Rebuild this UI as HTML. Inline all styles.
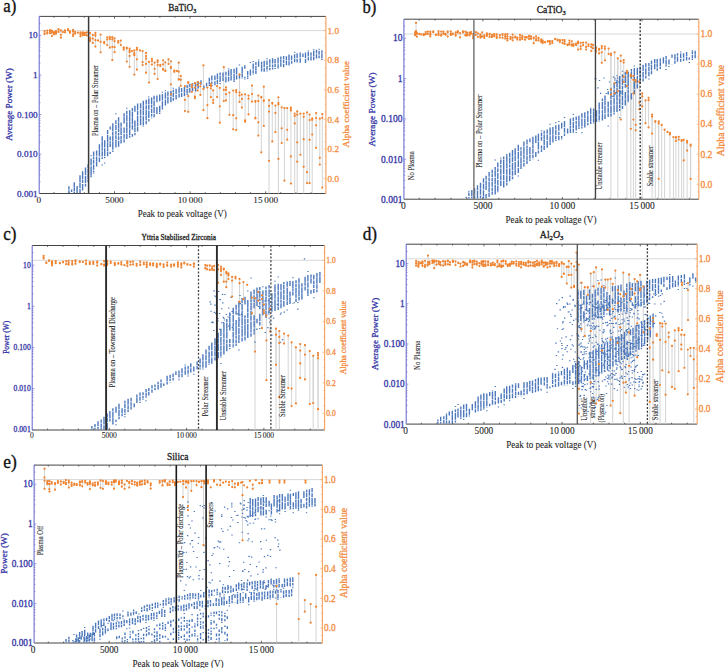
<!DOCTYPE html>
<html><head><meta charset="utf-8"><style>
html,body{margin:0;padding:0;background:#fff;}
svg{display:block;font-family:"Liberation Serif", serif;}
</style></head><body>
<svg width="725" height="668" viewBox="0 0 725 668">
<rect width="725" height="668" fill="#fff"/>
<line x1="39.2" y1="30.6" x2="325.9" y2="30.6" stroke="#d4d4d4" stroke-width="0.9"/>
<path d="M39.2 16.4H325.9M39.2 193.5H325.9" stroke="#444" stroke-width="1" fill="none"/>
<path d="M54.0 16.4v1.4M54.0 193.5v-1.4M69.1 16.4v1.4M69.1 193.5v-1.4M84.3 16.4v1.4M84.3 193.5v-1.4M99.4 16.4v1.4M99.4 193.5v-1.4M114.5 16.4v2.2M114.5 193.5v-2.2M129.6 16.4v1.4M129.6 193.5v-1.4M144.7 16.4v1.4M144.7 193.5v-1.4M159.9 16.4v1.4M159.9 193.5v-1.4M175.0 16.4v1.4M175.0 193.5v-1.4M190.1 16.4v2.2M190.1 193.5v-2.2M205.2 16.4v1.4M205.2 193.5v-1.4M220.3 16.4v1.4M220.3 193.5v-1.4M235.5 16.4v1.4M235.5 193.5v-1.4M250.6 16.4v1.4M250.6 193.5v-1.4M265.7 16.4v2.2M265.7 193.5v-2.2M280.8 16.4v1.4M280.8 193.5v-1.4M295.9 16.4v1.4M295.9 193.5v-1.4M311.1 16.4v1.4M311.1 193.5v-1.4" stroke="#444" stroke-width="0.8"/>
<line x1="39.2" y1="16.4" x2="39.2" y2="193.5" stroke="#6f6fd2" stroke-width="1.1"/>
<path d="M39.2 181.8h1.3M39.2 174.8h1.3M39.2 169.9h1.3M39.2 166.0h1.3M39.2 162.9h1.3M39.2 160.2h1.3M39.2 157.9h1.3M39.2 155.9h1.3M39.2 154.1h2.2M39.2 142.2h1.3M39.2 135.2h1.3M39.2 130.3h1.3M39.2 126.4h1.3M39.2 123.3h1.3M39.2 120.6h1.3M39.2 118.3h1.3M39.2 116.3h1.3M39.2 114.5h2.2M39.2 102.6h1.3M39.2 95.6h1.3M39.2 90.7h1.3M39.2 86.8h1.3M39.2 83.7h1.3M39.2 81.0h1.3M39.2 78.7h1.3M39.2 76.7h1.3M39.2 74.9h2.2M39.2 63.0h1.3M39.2 56.0h1.3M39.2 51.1h1.3M39.2 47.2h1.3M39.2 44.1h1.3M39.2 41.4h1.3M39.2 39.1h1.3M39.2 37.1h1.3M39.2 35.3h2.2M39.2 23.4h1.3M39.2 16.4h1.3" stroke="#6f6fd2" stroke-width="0.7"/>
<text x="37.7" y="38.4" font-size="9.2" fill="#3434a6" stroke="#3434a6" stroke-width="0.28" text-anchor="end">10</text>
<text x="37.7" y="78.0" font-size="9.2" fill="#3434a6" stroke="#3434a6" stroke-width="0.28" text-anchor="end">1</text>
<text x="37.7" y="117.6" font-size="9.2" fill="#3434a6" stroke="#3434a6" stroke-width="0.28" text-anchor="end">0.100</text>
<text x="37.7" y="157.2" font-size="9.2" fill="#3434a6" stroke="#3434a6" stroke-width="0.28" text-anchor="end">0.010</text>
<text x="37.7" y="196.8" font-size="9.2" fill="#3434a6" stroke="#3434a6" stroke-width="0.28" text-anchor="end">0.001</text>
<line x1="325.9" y1="16.4" x2="325.9" y2="193.5" stroke="#f7a66a" stroke-width="1.2"/>
<path d="M325.9 193.4h-1.3M325.9 186.0h-1.3M325.9 178.6h-2.2M325.9 171.2h-1.3M325.9 163.8h-1.3M325.9 156.4h-1.3M325.9 149.0h-2.2M325.9 141.6h-1.3M325.9 134.2h-1.3M325.9 126.8h-1.3M325.9 119.4h-2.2M325.9 112.0h-1.3M325.9 104.6h-1.3M325.9 97.2h-1.3M325.9 89.8h-2.2M325.9 82.4h-1.3M325.9 75.0h-1.3M325.9 67.6h-1.3M325.9 60.2h-2.2M325.9 52.8h-1.3M325.9 45.4h-1.3M325.9 38.0h-1.3M325.9 30.6h-2.2M325.9 23.2h-1.3" stroke="#f7a66a" stroke-width="0.7"/>
<text x="327.5" y="181.7" font-size="9.2" fill="#f38a3c" stroke="#f38a3c" stroke-width="0.28">0.0</text>
<text x="327.5" y="152.1" font-size="9.2" fill="#f38a3c" stroke="#f38a3c" stroke-width="0.28">0.2</text>
<text x="327.5" y="122.5" font-size="9.2" fill="#f38a3c" stroke="#f38a3c" stroke-width="0.28">0.4</text>
<text x="327.5" y="92.9" font-size="9.2" fill="#f38a3c" stroke="#f38a3c" stroke-width="0.28">0.6</text>
<text x="327.5" y="63.3" font-size="9.2" fill="#f38a3c" stroke="#f38a3c" stroke-width="0.28">0.8</text>
<text x="327.5" y="33.7" font-size="9.2" fill="#f38a3c" stroke="#f38a3c" stroke-width="0.28">1.0</text>
<text x="38.9" y="203.2" font-size="9.2" fill="#222" stroke="#222" stroke-width="0.08" text-anchor="middle">0</text>
<text x="114.5" y="203.2" font-size="9.2" fill="#222" stroke="#222" stroke-width="0.08" text-anchor="middle">5000</text>
<text x="190.1" y="203.2" font-size="9.2" fill="#222" stroke="#222" stroke-width="0.08" text-anchor="middle">10 000</text>
<text x="265.7" y="203.2" font-size="9.2" fill="#222" stroke="#222" stroke-width="0.08" text-anchor="middle">15 000</text>
<path d="M44.6 31.0V34.1M47.3 30.5V33.4M50.0 30.1V33.2M51.9 30.7V36.1M54.0 32.0V34.3M56.0 31.2V33.7M58.5 29.0V31.9M60.9 30.3V37.7M62.9 32.1V32.1M65.0 30.4V32.3M68.1 29.1V30.3M70.0 31.3V32.8M73.1 29.8V36.1M75.1 32.0V33.5M77.9 32.5V32.7M80.5 32.4V36.3M82.8 32.4V35.2M84.8 32.8V35.1M86.8 32.4V35.4M90.1 33.1V41.1M92.8 34.9V42.9M95.4 32.9V46.6M98.1 40.4V40.6M100.6 34.6V52.3M104.2 41.9V43.2M107.2 37.3V45.0M109.8 36.8V47.7M112.3 37.1V60.0M114.6 38.4V52.2M118.2 41.2V42.7M120.8 40.6V45.1M123.7 47.3V49.7M126.8 47.7V61.5M129.6 48.6V66.8M134.3 50.4V74.5M136.9 47.9V69.7M142.6 51.0V65.1M146.0 52.9V72.7M149.0 61.9V82.6M151.9 58.9V64.6M154.6 62.7V73.9M157.6 60.4V79.1M160.3 64.8V65.9M163.1 60.3V69.7M165.3 62.3V71.0M168.5 59.4V63.9M170.9 61.3V94.3M174.3 70.5V71.8M178.7 62.7V79.5M180.8 75.9V85.8M184.9 86.1V111.0M188.2 82.0V111.8M191.9 84.6V91.8M194.9 83.2V98.2M197.7 82.0V90.5M200.4 83.0V94.9M203.4 65.4V110.1M207.4 87.6V118.2M210.9 84.1V97.2M213.2 90.4V102.9M217.1 86.1V97.1M219.8 87.8V122.7M223.8 67.2V101.1M226.0 87.4V100.4M229.4 92.6V114.8M233.2 90.6V129.3M236.2 90.2V130.0M239.5 74.4V101.9M241.9 94.6V107.5M245.1 94.3V121.7M248.5 95.6V114.4M252.0 85.5V101.5M255.4 100.8V118.4M258.3 95.6V135.5M261.3 96.9V152.3M263.8 86.7V125.9M269.0 100.1V193.5M269.0 100.1V160.8M272.3 102.8V141.4M275.4 105.6V132.2M278.4 97.3V193.5M278.4 97.3V158.9M281.7 107.3V143.0M284.4 108.2V180.6M287.2 108.1V139.7M290.9 107.6V183.5M294.7 113.5V193.5M294.7 113.5V123.4M297.2 111.4V193.5M297.2 111.4V161.7M300.4 113.7V154.8M303.7 113.6V193.5M303.7 113.6V166.8M307.0 112.4V183.0M309.6 114.5V183.2M312.2 118.4V193.5M312.2 118.4V134.5M316.1 113.0V147.8M319.8 118.7V164.5M322.3 114.2V187.5" stroke="#cfcfcf" stroke-width="0.9" fill="none"/>
<path d="M68.9 186.3V189.7M68.9 190.3V192.9M71.6 189.4V192.0M74.3 182.2V187.5M74.3 187.8V191.5M74.3 191.9V192.9M77.1 186.0V192.9M80.0 175.3V182.1M80.0 182.5V188.0M80.0 188.7V192.9M82.6 171.2V179.1M82.6 179.5V183.0M82.6 183.9V190.6M85.5 167.4V175.2M85.5 175.9V182.9M85.5 183.7V186.6M88.1 164.3V167.9M88.1 168.4V172.9M88.1 173.4V179.4M88.1 179.9V181.9M91.1 158.4V165.4M91.1 166.2V172.4M91.1 172.6V175.2M91.1 175.5V177.2M91.1 155.2V156.2M93.6 151.5V156.5M93.6 157.0V159.6M93.6 160.1V163.7M93.6 164.5V169.8M93.6 170.4V172.0M93.6 172.6V173.6M96.6 150.5V155.8M96.6 156.5V161.2M96.6 161.6V166.6M99.4 144.3V149.1M99.4 149.3V156.6M99.4 157.4V162.0M102.2 136.3V140.9M102.2 141.2V147.4M102.2 147.8V150.8M102.2 151.2V156.5M102.2 157.3V159.1M102.2 164.6V165.6M104.7 140.3V147.6M104.7 148.2V156.1M104.7 156.8V158.2M104.7 162.4V163.4M107.6 130.0V134.1M107.6 134.7V142.4M107.6 142.7V148.3M107.6 148.5V151.4M107.6 152.1V156.3M110.2 126.5V129.4M110.2 136.4V140.4M110.2 141.2V143.7M110.2 144.0V147.1M110.2 151.7V154.0M112.8 123.2V131.0M112.8 131.4V135.3M112.8 135.6V141.7M112.8 141.9V149.8M112.8 150.4V152.1M115.9 120.2V123.9M115.9 124.8V130.3M115.9 130.9V134.8M115.9 135.3V139.1M115.9 139.5V147.4M115.9 113.2V114.2M118.6 117.3V121.7M118.6 122.3V128.1M118.6 128.3V132.1M118.6 132.7V135.6M118.6 136.2V140.3M118.6 140.9V146.7M121.1 122.5V126.7M121.1 127.3V134.9M121.1 135.7V139.0M121.1 139.2V143.4M124.1 113.2V116.7M124.1 117.0V123.4M124.1 127.4V133.0M124.1 133.8V138.7M124.1 139.2V142.5M126.8 110.7V114.0M126.8 114.4V121.4M126.8 121.9V127.8M126.8 128.0V133.4M126.8 134.0V139.0M126.8 107.7V108.7M129.7 110.2V116.2M129.7 116.5V121.8M129.7 122.1V128.8M129.7 129.2V135.5M129.7 136.0V137.8M132.4 108.0V111.5M132.4 111.9V117.5M132.4 117.7V124.0M132.4 124.4V129.7M132.4 133.9V136.7M134.9 105.7V111.8M134.9 120.4V127.3M134.9 127.6V131.9M134.9 132.7V135.2M137.6 103.5V110.1M137.6 110.5V115.4M137.6 116.0V121.9M137.6 122.2V126.3M137.6 126.7V131.5M140.6 103.2V108.4M140.6 109.2V114.8M140.6 115.2V118.3M140.6 118.6V125.2M143.3 100.8V105.2M143.3 105.4V110.4M143.3 110.8V115.5M143.3 116.2V121.4M143.3 121.8V125.5M143.3 125.9V126.5M146.2 99.7V104.4M146.2 105.3V109.5M146.2 110.1V115.5M146.2 115.7V120.4M146.2 120.9V124.2M148.8 98.4V104.4M148.8 105.1V109.8M148.8 110.5V118.1M148.8 118.9V121.4M148.8 96.4V97.4M151.6 97.4V104.5M151.6 105.0V107.8M151.6 108.5V113.3M151.6 114.0V116.6M151.6 117.5V118.3M154.1 95.8V99.8M154.1 100.6V105.9M154.1 106.5V113.1M154.1 113.7V117.3M156.9 95.4V102.3M156.9 107.1V113.9M159.7 94.4V101.2M159.7 105.8V112.6M159.7 112.9V113.9M162.4 94.0V100.6M162.4 101.3V107.8M162.4 108.1V109.6M162.4 91.7V92.7M165.4 92.4V98.7M165.4 99.6V105.5M165.4 90.2V91.2M167.9 91.6V96.6M167.9 97.0V103.4M170.9 90.9V95.9M170.9 96.4V102.2M173.3 89.8V92.6M173.3 92.9V97.3M173.3 98.1V100.8M173.3 87.7V88.7M176.1 88.8V94.2M176.1 95.0V99.4M179.1 88.0V93.4M179.1 93.9V97.4M179.1 86.7V87.7M181.6 87.9V92.3M181.6 93.1V96.9M184.4 86.9V92.0M184.4 92.2V96.1M187.1 85.1V88.0M187.1 88.7V93.6M187.1 94.1V95.1M189.8 83.8V87.2M189.8 88.0V92.7M192.6 83.3V86.3M192.6 87.2V90.9M195.7 82.7V86.8M195.7 87.6V90.7M195.7 90.4V91.4M198.2 81.5V85.3M198.2 85.8V88.5M201.0 80.3V84.8M203.9 85.6V88.5M206.6 82.8V86.5M206.6 87.3V87.7M209.3 77.8V81.3M209.3 81.5V84.3M209.3 84.7V86.1M211.8 75.4V80.6M211.8 81.4V84.0M211.8 84.8V86.5M214.9 75.6V80.3M214.9 81.2V85.2M217.4 73.5V79.4M217.4 79.9V84.2M220.1 72.6V75.1M220.1 75.5V82.0M220.1 82.9V84.2M223.0 72.6V76.9M223.0 77.3V81.1M225.9 71.7V75.6M225.9 76.5V82.6M228.6 70.3V76.2M228.6 76.9V81.5M228.6 68.5V69.5M231.1 69.1V75.4M231.1 75.8V80.6M234.1 68.7V73.5M234.1 74.0V80.7M234.1 81.1V82.1M236.6 67.6V74.5M236.6 75.2V79.5M239.5 74.1V78.6M239.5 64.6V65.6M242.2 66.8V72.9M242.2 73.2V77.5M242.2 77.9V78.6M244.8 65.3V68.8M244.8 76.8V78.0M244.8 78.5V79.5M247.7 70.9V74.9M247.7 75.4V77.4M247.7 78.1V79.1M250.4 69.5V75.1M250.4 75.5V76.0M250.4 62.0V63.0M253.2 63.4V69.6M253.2 70.2V72.9M253.2 73.6V74.6M253.2 60.9V61.9M255.9 62.1V65.0M255.9 65.7V70.8M255.9 71.1V74.0M258.6 61.3V66.7M258.6 59.4V60.4M261.6 61.7V64.5M261.6 64.8V68.4M261.6 68.7V71.3M261.6 71.8V72.1M264.2 60.8V67.2M264.2 68.0V71.8M267.0 60.5V65.1M267.0 65.7V69.8M267.0 70.5V71.5M267.0 58.3V59.3M269.8 59.2V63.8M269.8 64.3V67.3M269.8 67.9V70.2M272.6 58.2V63.6M272.6 64.5V67.6M272.6 67.9V69.5M275.1 58.9V62.9M275.1 63.5V67.0M275.1 67.7V68.9M278.1 57.5V63.6M278.1 64.3V68.4M280.8 56.4V59.0M280.8 59.2V61.9M280.8 62.2V66.8M283.6 56.1V59.6M283.6 60.0V63.2M283.6 64.0V67.3M286.4 56.3V60.1M286.4 60.5V65.3M289.0 54.5V60.7M289.0 61.3V65.6M291.6 55.4V60.3M291.6 61.0V63.8M294.6 54.2V58.4M294.6 59.1V62.3M294.6 51.7V52.7M297.1 53.2V58.3M297.1 59.0V62.5M300.2 52.6V57.4M300.2 58.2V62.7M302.9 53.6V57.1M305.5 52.4V58.1M305.5 58.8V62.3M305.5 62.1V63.1M308.3 51.9V56.4M308.3 57.3V60.6M308.3 50.5V51.5M311.0 52.4V55.8M311.0 56.3V60.1M311.0 60.4V61.0M313.7 50.7V55.9M313.7 56.5V60.2M313.7 49.3V50.3M316.5 50.2V53.4M316.5 54.2V58.2M316.5 58.7V59.0M316.5 49.8V50.8M319.1 50.8V54.7M319.1 55.4V58.3M319.1 48.8V49.8M321.9 50.2V53.7M321.9 54.1V58.6M321.9 58.9V59.9" stroke="#4d79bc" stroke-width="1.4" fill="none"/>
<path d="M44.6 31.0h0M44.6 34.1h0M44.6 33.4h0M47.3 32.8h0M47.3 30.5h0M47.3 33.4h0M50.0 30.1h0M50.0 31.4h0M50.0 33.2h0M50.0 33.0h0M51.9 32.5h0M51.9 30.7h0M51.9 32.1h0M51.9 36.1h0M54.0 32.0h0M54.0 32.7h0M54.0 33.5h0M54.0 34.3h0M56.0 31.2h0M56.0 32.2h0M56.0 32.3h0M56.0 33.7h0M58.5 29.7h0M58.5 29.0h0M58.5 31.9h0M60.9 30.6h0M60.9 30.3h0M60.9 34.8h0M60.9 37.7h0M62.9 32.1h0M62.9 32.1h0M65.0 32.2h0M65.0 30.4h0M65.0 32.3h0M68.1 30.3h0M68.1 29.1h0M70.0 32.4h0M70.0 32.8h0M70.0 31.3h0M73.1 29.8h0M73.1 31.1h0M73.1 31.5h0M73.1 36.1h0M73.1 34.3h0M75.1 32.1h0M75.1 33.5h0M75.1 32.0h0M77.9 32.7h0M77.9 32.5h0M77.9 32.7h0M80.5 32.4h0M80.5 34.7h0M80.5 33.9h0M80.5 36.3h0M80.5 33.0h0M82.8 32.4h0M82.8 32.6h0M82.8 33.3h0M82.8 35.2h0M82.8 33.5h0M84.8 32.8h0M84.8 35.1h0M84.8 33.6h0M86.8 35.4h0M86.8 32.4h0M90.1 38.2h0M90.1 40.0h0M90.1 41.1h0M90.1 33.1h0M92.8 38.5h0M92.8 34.9h0M92.8 42.9h0M95.4 35.8h0M95.4 32.9h0M95.4 46.6h0M95.4 40.2h0M95.4 35.0h0M98.1 40.4h0M98.1 40.6h0M100.6 41.9h0M100.6 34.6h0M100.6 52.3h0M104.2 41.9h0M104.2 43.2h0M107.2 39.6h0M107.2 45.0h0M107.2 37.3h0M109.8 38.9h0M109.8 38.2h0M109.8 36.8h0M109.8 47.7h0M112.3 37.1h0M112.3 46.8h0M112.3 37.3h0M112.3 60.0h0M112.3 39.4h0M114.6 38.4h0M114.6 47.2h0M114.6 52.2h0M114.6 41.2h0M118.2 41.2h0M118.2 42.7h0M120.8 45.1h0M120.8 40.6h0M120.8 40.6h0M123.7 49.7h0M123.7 47.3h0M123.7 48.1h0M126.8 48.3h0M126.8 48.2h0M126.8 47.7h0M126.8 61.5h0M129.6 48.6h0M129.6 52.2h0M129.6 50.7h0M129.6 55.9h0M129.6 66.8h0M132.0 51.0h0M134.3 50.4h0M134.3 53.0h0M134.3 55.2h0M134.3 74.5h0M134.3 54.4h0M136.9 49.5h0M136.9 69.7h0M136.9 59.3h0M136.9 47.9h0M139.9 50.4h0M142.6 51.0h0M142.6 62.2h0M142.6 65.1h0M146.0 52.9h0M146.0 58.7h0M146.0 56.1h0M146.0 72.7h0M146.0 63.9h0M149.0 61.9h0M149.0 82.6h0M151.9 61.1h0M151.9 64.6h0M151.9 58.9h0M154.6 62.7h0M154.6 68.8h0M154.6 73.9h0M157.6 60.4h0M157.6 65.0h0M157.6 61.9h0M157.6 64.9h0M157.6 79.1h0M160.3 65.9h0M160.3 64.8h0M163.1 69.7h0M163.1 69.2h0M163.1 64.3h0M163.1 60.3h0M165.3 70.5h0M165.3 71.0h0M165.3 62.3h0M168.5 63.9h0M168.5 59.4h0M170.9 67.2h0M170.9 67.1h0M170.9 68.0h0M170.9 84.3h0M170.9 94.3h0M170.9 61.3h0M174.3 71.8h0M174.3 70.5h0M174.3 71.3h0M176.8 70.9h0M178.7 79.0h0M178.7 71.7h0M178.7 79.5h0M178.7 62.7h0M180.8 79.6h0M180.8 79.8h0M180.8 85.8h0M180.8 75.9h0M184.9 86.1h0M184.9 99.8h0M184.9 111.0h0M188.2 82.0h0M188.2 82.8h0M188.2 111.8h0M188.2 96.0h0M191.9 87.0h0M191.9 84.6h0M191.9 91.8h0M194.9 87.6h0M194.9 87.6h0M194.9 98.2h0M194.9 96.6h0M194.9 83.2h0M197.7 82.0h0M197.7 85.2h0M197.7 90.5h0M200.4 83.0h0M200.4 86.3h0M200.4 94.9h0M203.4 88.8h0M203.4 89.0h0M203.4 110.1h0M203.4 65.4h0M207.4 87.6h0M207.4 105.0h0M207.4 118.2h0M210.9 85.9h0M210.9 84.1h0M210.9 88.3h0M210.9 97.2h0M213.2 90.4h0M213.2 100.0h0M213.2 102.9h0M217.1 86.1h0M217.1 97.1h0M219.8 87.8h0M219.8 122.7h0M219.8 106.3h0M223.8 89.8h0M223.8 101.1h0M223.8 67.2h0M226.0 89.9h0M226.0 87.4h0M226.0 94.2h0M226.0 100.4h0M229.4 92.6h0M229.4 114.8h0M233.2 90.6h0M233.2 115.2h0M233.2 129.3h0M236.2 90.2h0M236.2 92.2h0M236.2 118.3h0M236.2 130.0h0M239.5 92.6h0M239.5 95.3h0M239.5 101.9h0M239.5 74.4h0M241.9 98.9h0M241.9 94.6h0M241.9 107.5h0M245.1 94.3h0M245.1 120.4h0M245.1 121.7h0M248.5 95.6h0M248.5 98.7h0M248.5 114.4h0M252.0 94.0h0M252.0 101.5h0M252.0 85.5h0M255.4 101.8h0M255.4 100.8h0M255.4 118.4h0M255.4 117.9h0M258.3 95.6h0M258.3 101.0h0M258.3 122.3h0M258.3 135.5h0M261.3 97.4h0M261.3 96.9h0M261.3 152.3h0M263.8 100.3h0M263.8 101.1h0M263.8 125.9h0M263.8 86.7h0M269.0 100.1h0M269.0 105.9h0M269.0 111.6h0M269.0 160.8h0M272.3 102.8h0M272.3 103.6h0M272.3 141.4h0M275.4 105.6h0M275.4 112.9h0M275.4 132.2h0M278.4 104.3h0M278.4 103.0h0M278.4 158.9h0M278.4 97.3h0M281.7 107.3h0M281.7 143.0h0M281.7 128.3h0M284.4 108.2h0M284.4 180.6h0M287.2 108.1h0M287.2 129.8h0M287.2 139.7h0M290.9 110.5h0M290.9 109.0h0M290.9 183.5h0M290.9 156.4h0M290.9 107.6h0M294.7 113.5h0M294.7 115.9h0M294.7 123.4h0M297.2 114.7h0M297.2 111.4h0M297.2 161.7h0M297.2 142.3h0M300.4 113.7h0M300.4 154.8h0M303.7 116.8h0M303.7 113.6h0M303.7 139.2h0M303.7 166.8h0M307.0 112.4h0M307.0 183.0h0M307.0 172.2h0M309.6 114.5h0M309.6 120.1h0M309.6 183.2h0M309.6 139.8h0M312.2 118.4h0M312.2 119.8h0M312.2 134.5h0M316.1 118.1h0M316.1 125.3h0M316.1 147.8h0M316.1 113.0h0M319.8 118.7h0M319.8 157.8h0M319.8 164.5h0M322.3 117.8h0M322.3 187.5h0M322.3 114.2h0" stroke="#f08430" stroke-width="2.25" stroke-linecap="round" fill="none"/>
<line x1="88.6" y1="16.4" x2="88.6" y2="193.5" stroke="#3a3a3a" stroke-width="1.5"/>
<text x="3.3" y="12.4" font-size="18.5" fill="#111" stroke="#111" stroke-width="0.35" text-anchor="start" textLength="13" lengthAdjust="spacingAndGlyphs" >a)</text>
<text x="182.3" y="10.7" font-size="10" fill="#222" stroke="#222" stroke-width="0.3" text-anchor="middle" textLength="28" lengthAdjust="spacingAndGlyphs" >BaTiO<tspan font-size="6.5" dy="1.8">3</tspan></text>
<text transform="translate(11.5,104.5) rotate(-90)" font-size="9.0" fill="#3434a6" stroke="#3434a6" stroke-width="0.28" text-anchor="middle" textLength="72.5" lengthAdjust="spacingAndGlyphs" >Average Power (W)</text>
<text transform="translate(348.8,104.2) rotate(-90)" font-size="9.2" fill="#f38a3c" stroke="#f38a3c" stroke-width="0.28" text-anchor="middle" textLength="86.5" lengthAdjust="spacingAndGlyphs" >Alpha coefficient value</text>
<text x="182.2" y="216.5" font-size="10" fill="#222" stroke="#222" stroke-width="0.08" text-anchor="middle" textLength="89" lengthAdjust="spacingAndGlyphs" >Peak to peak voltage (V)</text>
<text transform="translate(98.3,100.4) rotate(-90)" font-size="7.8" fill="#222" stroke="#222" stroke-width="0.08" text-anchor="middle" textLength="71.3" lengthAdjust="spacingAndGlyphs" >Plasma on – Polar Streamer</text>
<line x1="403.9" y1="34.0" x2="698.8" y2="34.0" stroke="#d4d4d4" stroke-width="0.9"/>
<path d="M403.9 19.2H698.8M403.9 199.2H698.8" stroke="#444" stroke-width="1" fill="none"/>
<path d="M419.2 19.2v1.4M419.2 199.2v-1.4M435.1 19.2v1.4M435.1 199.2v-1.4M451.0 19.2v1.4M451.0 199.2v-1.4M466.9 19.2v1.4M466.9 199.2v-1.4M482.9 19.2v2.2M482.9 199.2v-2.2M498.8 19.2v1.4M498.8 199.2v-1.4M514.7 19.2v1.4M514.7 199.2v-1.4M530.6 19.2v1.4M530.6 199.2v-1.4M546.5 19.2v1.4M546.5 199.2v-1.4M562.4 19.2v2.2M562.4 199.2v-2.2M578.3 19.2v1.4M578.3 199.2v-1.4M594.2 19.2v1.4M594.2 199.2v-1.4M610.1 19.2v1.4M610.1 199.2v-1.4M626.0 19.2v1.4M626.0 199.2v-1.4M642.0 19.2v2.2M642.0 199.2v-2.2M657.9 19.2v1.4M657.9 199.2v-1.4M673.8 19.2v1.4M673.8 199.2v-1.4M689.7 19.2v1.4M689.7 199.2v-1.4" stroke="#444" stroke-width="0.8"/>
<line x1="403.9" y1="19.2" x2="403.9" y2="199.2" stroke="#6f6fd2" stroke-width="1.1"/>
<path d="M403.9 187.5h1.3M403.9 180.3h1.3M403.9 175.3h1.3M403.9 171.4h1.3M403.9 168.2h1.3M403.9 165.5h1.3M403.9 163.2h1.3M403.9 161.1h1.3M403.9 159.2h2.2M403.9 147.1h1.3M403.9 140.0h1.3M403.9 135.0h1.3M403.9 131.0h1.3M403.9 127.9h1.3M403.9 125.2h1.3M403.9 122.8h1.3M403.9 120.7h1.3M403.9 118.9h2.2M403.9 106.8h1.3M403.9 99.6h1.3M403.9 94.6h1.3M403.9 90.7h1.3M403.9 87.5h1.3M403.9 84.8h1.3M403.9 82.5h1.3M403.9 80.4h1.3M403.9 78.6h2.2M403.9 66.4h1.3M403.9 59.3h1.3M403.9 54.3h1.3M403.9 50.3h1.3M403.9 47.2h1.3M403.9 44.5h1.3M403.9 42.1h1.3M403.9 40.0h1.3M403.9 38.2h2.2M403.9 26.1h1.3" stroke="#6f6fd2" stroke-width="0.7"/>
<text x="402.4" y="41.4" font-size="9.5" fill="#3434a6" stroke="#3434a6" stroke-width="0.28" text-anchor="end">10</text>
<text x="402.4" y="81.8" font-size="9.5" fill="#3434a6" stroke="#3434a6" stroke-width="0.28" text-anchor="end">1</text>
<text x="402.4" y="122.1" font-size="9.5" fill="#3434a6" stroke="#3434a6" stroke-width="0.28" text-anchor="end">0.100</text>
<text x="402.4" y="162.5" font-size="9.5" fill="#3434a6" stroke="#3434a6" stroke-width="0.28" text-anchor="end">0.010</text>
<text x="402.4" y="202.8" font-size="9.5" fill="#3434a6" stroke="#3434a6" stroke-width="0.28" text-anchor="end">0.001</text>
<line x1="698.8" y1="19.2" x2="698.8" y2="199.2" stroke="#f7a66a" stroke-width="1.2"/>
<path d="M698.8 191.8h-1.3M698.8 184.3h-2.2M698.8 176.8h-1.3M698.8 169.3h-1.3M698.8 161.8h-1.3M698.8 154.2h-2.2M698.8 146.7h-1.3M698.8 139.2h-1.3M698.8 131.7h-1.3M698.8 124.2h-2.2M698.8 116.7h-1.3M698.8 109.1h-1.3M698.8 101.6h-1.3M698.8 94.1h-2.2M698.8 86.6h-1.3M698.8 79.1h-1.3M698.8 71.6h-1.3M698.8 64.1h-2.2M698.8 56.5h-1.3M698.8 49.0h-1.3M698.8 41.5h-1.3M698.8 34.0h-2.2M698.8 26.5h-1.3" stroke="#f7a66a" stroke-width="0.7"/>
<text x="700.4" y="187.5" font-size="9.5" fill="#f38a3c" stroke="#f38a3c" stroke-width="0.28">0.0</text>
<text x="700.4" y="157.5" font-size="9.5" fill="#f38a3c" stroke="#f38a3c" stroke-width="0.28">0.2</text>
<text x="700.4" y="127.4" font-size="9.5" fill="#f38a3c" stroke="#f38a3c" stroke-width="0.28">0.4</text>
<text x="700.4" y="97.4" font-size="9.5" fill="#f38a3c" stroke="#f38a3c" stroke-width="0.28">0.6</text>
<text x="700.4" y="67.3" font-size="9.5" fill="#f38a3c" stroke="#f38a3c" stroke-width="0.28">0.8</text>
<text x="700.4" y="37.2" font-size="9.5" fill="#f38a3c" stroke="#f38a3c" stroke-width="0.28">1.0</text>
<text x="403.3" y="209.2" font-size="9.5" fill="#222" stroke="#222" stroke-width="0.08" text-anchor="middle">0</text>
<text x="482.9" y="209.2" font-size="9.5" fill="#222" stroke="#222" stroke-width="0.08" text-anchor="middle">5000</text>
<text x="562.4" y="209.2" font-size="9.5" fill="#222" stroke="#222" stroke-width="0.08" text-anchor="middle">10 000</text>
<text x="642.0" y="209.2" font-size="9.5" fill="#222" stroke="#222" stroke-width="0.08" text-anchor="middle">15 000</text>
<path d="M415.1 32.0V35.2M416.9 32.8V36.6M419.3 33.8V34.0M421.4 34.3V34.4M423.8 34.2V35.2M425.7 32.1V34.2M427.8 31.5V33.9M430.3 31.6V36.4M433.2 31.4V32.2M435.9 34.6V35.1M438.5 31.1V35.2M441.2 31.5V35.7M443.5 31.7V33.8M445.5 33.8V34.8M447.7 31.4V36.6M450.8 31.3V35.0M452.8 33.7V34.2M455.7 32.3V35.7M457.8 31.2V32.6M460.1 33.0V37.4M463.0 31.3V32.4M465.4 31.7V35.4M467.0 32.6V35.4M469.5 32.6V35.4M416.0 22.8V31.0M471.1 32.0V33.5M473.2 34.1V38.3M475.8 32.2V34.8M477.9 33.4V36.8M480.4 34.3V37.7M482.2 32.3V36.6M484.3 35.3V37.9M486.9 33.3V35.9M489.6 33.8V36.9M492.0 34.9V37.0M494.2 34.1V36.2M496.7 34.3V37.9M499.8 35.2V37.5M502.5 34.1V37.8M505.2 34.4V38.6M507.4 34.1V40.4M510.5 36.8V38.9M512.7 34.5V40.3M515.2 36.6V37.4M517.3 37.6V39.5M520.0 34.9V39.8M522.3 35.9V39.1M525.0 37.0V39.7M526.8 37.0V37.6M529.0 35.9V38.9M531.0 36.3V38.8M533.7 37.7V43.2M536.1 36.4V40.4M538.5 37.8V40.6M541.2 39.4V41.9M542.7 40.6V43.0M545.0 42.1V42.3M547.8 41.0V41.6M549.9 41.0V44.0M552.3 41.0V42.9M555.1 38.9V39.2M557.6 39.6V40.6M559.9 40.2V42.1M562.5 40.1V43.1M564.6 40.0V43.9M567.4 44.5V45.1M569.4 40.6V44.6M571.8 41.3V45.5M573.5 44.2V45.8M576.1 43.6V45.1M578.1 41.6V49.5M580.7 42.8V49.0M583.1 42.6V45.2M586.1 42.5V49.5M588.5 44.3V46.0M591.3 44.3V51.1M593.0 44.8V48.3M596.0 47.4V199.2M596.0 47.4V51.7M599.1 48.9V53.4M601.8 46.0V62.8M604.9 46.6V60.3M608.6 48.5V54.0M610.9 53.6V199.2M610.9 53.6V94.6M614.6 52.3V93.1M617.8 58.3V199.2M617.8 58.3V90.9M620.8 55.6V119.6M623.7 60.1V81.9M626.9 70.8V199.2M626.9 70.8V86.1M630.8 74.9V199.2M630.8 74.9V128.8M633.4 76.1V199.2M633.4 76.1V119.6M635.7 80.0V199.2M635.7 80.0V130.3M639.3 81.6V109.3M642.2 93.3V199.2M642.2 93.3V106.4M645.5 100.4V123.2M648.6 97.8V127.4M652.1 114.5V199.2M652.1 114.5V133.5M655.3 121.1V199.2M655.3 121.1V121.8M658.7 121.3V199.2M658.7 121.3V178.8M661.7 124.9V199.2M664.6 129.5V199.2M664.6 129.5V129.8M667.5 131.8V132.1M669.9 132.9V199.2M669.9 132.9V134.4M673.4 137.0V199.2M675.9 137.2V199.2M675.9 137.2V140.9M678.7 136.8V199.2M678.7 136.8V139.5M681.6 140.0V199.2M681.6 140.0V141.1M683.7 139.8V199.2M683.7 139.8V160.4M687.1 140.9V199.2M687.1 140.9V150.5M690.6 144.7V199.2M690.6 144.7V178.9" stroke="#cfcfcf" stroke-width="0.9" fill="none"/>
<path d="M466.2 196.7V197.9M468.9 192.6V196.0M468.9 196.9V198.6M468.9 190.8V191.8M471.8 190.0V196.1M471.8 196.6V198.6M474.6 188.2V194.7M474.6 195.4V198.6M477.5 185.2V190.3M477.5 190.8V198.4M480.5 182.7V187.9M480.5 188.3V194.7M480.5 195.5V198.6M483.5 179.1V182.7M483.5 183.6V189.5M483.5 190.3V196.8M483.5 197.1V198.6M483.5 178.2V179.2M486.1 175.8V179.7M486.1 180.5V185.3M486.1 185.5V190.0M486.1 193.9V198.6M489.1 172.1V176.7M489.1 177.6V180.9M489.1 181.4V187.2M489.1 187.5V191.9M489.1 192.4V197.0M492.2 169.7V173.5M492.2 173.9V176.9M492.2 177.8V181.0M492.2 181.4V186.8M492.2 187.6V191.6M492.2 192.1V194.7M495.2 166.9V170.7M495.2 171.0V176.8M495.2 177.6V184.0M495.2 184.5V189.9M495.2 190.1V194.5M495.2 159.5V160.5M497.8 162.6V167.6M497.8 168.3V171.9M497.8 172.8V179.3M497.8 179.9V185.6M497.8 186.1V191.4M497.8 191.7V192.2M500.8 159.5V164.0M500.8 164.7V167.8M500.8 168.6V174.8M500.8 175.3V180.0M500.8 180.4V186.1M500.8 157.5V158.5M503.7 156.5V159.5M503.7 160.1V167.9M503.7 168.1V174.2M503.7 175.0V180.2M503.7 180.7V187.5M506.8 155.3V162.4M506.8 162.8V168.0M506.8 168.5V174.7M506.8 175.3V182.3M506.8 182.8V185.6M506.8 153.9V154.9M509.7 152.7V156.9M509.7 157.5V163.8M509.7 164.4V167.5M509.7 168.3V175.0M509.7 175.6V181.2M512.5 150.0V156.8M512.5 157.1V162.1M512.5 162.7V170.0M512.5 170.6V175.7M512.5 176.4V179.3M515.2 148.3V155.0M515.2 155.3V161.2M515.2 161.9V169.8M515.2 170.0V175.0M518.3 144.8V151.3M518.3 152.1V159.5M518.3 160.3V167.0M518.3 167.7V172.9M518.3 175.6V176.6M521.0 147.2V149.7M521.0 150.5V156.6M521.0 157.2V163.4M521.0 163.8V168.9M523.9 141.6V146.4M523.9 147.1V154.4M523.9 154.7V159.3M523.9 159.7V162.3M523.9 163.1V166.6M527.0 139.5V144.6M527.0 145.5V148.4M527.0 148.8V154.9M527.0 155.5V160.2M527.0 160.5V164.0M529.9 138.5V142.3M529.9 147.0V154.0M529.9 154.4V158.7M529.9 159.2V161.1M532.9 136.8V144.4M532.9 144.7V148.5M532.9 149.1V153.7M532.9 154.5V158.2M532.9 158.9V159.3M535.8 135.4V143.1M535.8 151.9V157.0M538.4 133.8V141.6M538.4 142.1V149.5M538.4 150.4V153.6M538.4 159.7V160.7M541.5 132.4V136.2M541.5 136.7V140.7M541.5 145.6V148.8M541.5 149.2V152.0M541.5 130.2V131.2M544.2 130.8V133.7M544.2 134.5V139.3M544.2 139.6V145.0M544.2 145.5V150.1M547.2 129.6V133.8M547.2 134.4V140.2M547.2 141.0V147.8M550.1 127.4V135.4M550.1 136.3V142.5M550.1 142.7V145.0M550.1 123.8V124.8M552.9 127.0V134.8M552.9 135.0V142.5M555.8 125.3V128.9M555.8 129.6V135.0M555.8 135.8V139.1M555.8 139.4V140.9M555.8 122.2V123.2M558.8 124.4V130.8M558.8 131.7V135.1M558.8 135.8V140.3M558.8 121.1V122.1M561.7 122.8V128.4M561.7 135.9V138.1M561.7 138.6V139.6M564.5 121.0V127.0M564.5 127.7V132.8M564.5 133.5V135.9M564.5 117.0V118.0M567.6 128.4V133.4M570.4 118.4V124.9M570.4 125.6V128.7M570.4 129.1V133.0M573.3 117.5V121.1M573.3 121.8V128.6M573.3 129.1V132.7M573.3 113.9V114.9M576.2 116.4V119.9M576.2 120.7V124.4M576.2 125.0V130.5M576.2 132.1V133.1M578.9 115.7V120.0M578.9 120.3V126.8M578.9 127.3V129.1M581.9 113.3V117.8M581.9 118.5V126.0M581.9 126.5V128.4M581.9 132.2V133.2M584.8 112.8V118.5M584.8 119.1V122.9M584.8 123.1V127.4M584.8 112.3V113.3M587.8 111.0V114.7M587.8 115.3V122.3M587.8 123.1V125.3M590.7 109.0V114.4M590.7 115.0V121.4M590.7 121.7V124.1M590.7 107.7V108.7M593.6 108.5V111.6M593.6 111.8V118.0M593.6 118.3V122.5M593.6 123.1V123.4M596.5 110.3V117.3M596.5 117.8V122.0M599.2 102.6V109.1M599.2 109.3V114.8M599.2 115.3V120.1M599.2 120.4V121.5M602.4 98.6V101.3M602.4 102.0V109.5M602.4 110.3V113.4M602.4 113.7V117.4M602.4 117.6V120.5M605.0 95.5V100.2M605.0 100.5V105.3M605.0 105.8V113.6M605.0 114.2V119.0M608.2 91.2V94.4M608.2 101.6V107.3M608.2 107.8V112.8M608.2 113.2V116.9M608.2 125.4V126.4M611.0 87.7V91.5M611.0 92.0V99.1M611.0 99.8V105.3M611.0 105.9V113.6M611.0 114.1V116.4M614.1 82.8V88.7M614.1 89.6V97.4M614.1 98.0V104.7M614.1 105.2V112.1M614.1 112.4V114.6M617.0 79.7V87.2M617.0 87.7V93.7M617.0 94.6V100.8M617.0 101.2V104.0M617.0 104.2V111.9M617.0 75.2V76.2M619.7 75.9V78.9M619.7 79.1V84.3M619.7 84.6V88.9M619.7 89.7V97.5M619.7 98.2V103.9M619.7 104.5V107.9M619.7 108.7V110.9M619.7 117.2V118.2M622.5 74.3V77.8M622.5 78.6V85.1M622.5 85.7V89.5M622.5 90.1V95.4M622.5 95.9V101.0M622.5 101.3V104.9M622.5 105.8V108.9M622.5 70.7V71.7M625.3 71.7V75.3M625.3 75.7V82.9M625.3 83.7V87.8M625.3 91.9V98.8M625.3 99.3V105.6M628.2 71.4V78.3M628.2 78.5V85.9M628.2 86.4V89.6M628.2 90.1V93.7M628.2 94.2V101.0M628.2 101.3V102.3M631.4 69.1V71.8M631.4 72.0V78.8M631.4 93.3V96.9M631.4 97.1V99.4M634.3 68.1V76.0M634.3 76.5V80.6M634.3 81.3V89.1M634.3 89.8V94.3M634.3 65.4V66.4M637.3 67.7V75.3M637.3 76.1V79.8M637.3 80.1V83.6M637.3 84.1V88.4M640.1 66.4V74.2M640.1 74.4V80.7M640.1 81.1V83.7M643.1 64.7V71.1M643.1 71.8V77.7M643.1 78.3V81.6M645.8 63.2V67.6M645.8 68.2V74.8M645.8 75.4V78.5M648.9 62.9V66.3M648.9 66.7V71.5M648.9 72.0V76.2M648.9 78.4V79.4M651.5 60.4V64.3M651.5 64.7V70.0M651.5 70.5V74.2M654.7 58.9V63.1M654.7 63.6V69.3M657.2 59.1V63.7M657.2 64.0V67.5M657.2 68.2V70.8M660.3 58.4V61.2M660.3 61.5V66.0M660.3 66.6V69.0M663.4 57.2V63.6M666.1 56.0V59.5M666.1 60.1V64.2M666.1 64.4V66.5M666.1 68.9V69.9M669.0 59.4V64.1M669.0 64.4V64.9M669.0 66.0V67.0M672.0 54.6V57.7M672.0 64.2V64.5M674.9 54.3V59.8M674.9 60.5V63.3M674.9 63.6V64.0M677.5 53.2V55.7M677.5 56.6V61.8M680.7 53.4V58.1M680.7 58.8V61.8M680.7 51.4V52.4M683.6 53.3V57.8M683.6 58.6V61.1M686.6 52.1V56.6M686.6 56.9V60.5M686.6 52.1V53.1M689.3 57.4V59.8M689.3 62.0V63.0M692.4 51.6V54.3M692.4 55.0V58.1M692.4 58.4V60.1M692.4 50.2V51.2M695.2 51.2V54.2M695.2 54.5V58.2M695.2 50.8V51.8M620.3 91.2V92.3M600.6 92.8V93.9M595.9 78.2V79.3M598.0 87.3V88.4M611.0 88.5V89.6M620.6 91.0V92.1M615.1 79.5V80.6M619.6 94.4V95.5M617.4 77.6V78.7M614.3 86.4V87.5M609.5 81.4V82.5M615.9 92.1V93.2M615.8 82.0V83.1M614.9 77.7V78.8M613.4 76.6V77.7M595.2 78.1V79.2M612.6 95.7V96.8M607.6 88.9V90.0M610.8 92.8V93.9M621.2 92.4V93.5M604.0 77.4V78.5M619.1 81.6V82.7M615.5 93.3V94.4M599.5 79.9V81.0M606.4 92.9V94.0" stroke="#4d79bc" stroke-width="1.4" fill="none"/>
<path d="M415.1 35.2h0M415.1 32.0h0M415.1 33.5h0M415.1 34.9h0M416.9 32.8h0M416.9 33.0h0M416.9 33.7h0M416.9 36.6h0M419.3 34.0h0M419.3 33.8h0M419.3 34.0h0M421.4 34.3h0M421.4 34.4h0M421.4 34.4h0M423.8 35.2h0M423.8 34.2h0M423.8 34.8h0M425.7 34.2h0M425.7 32.1h0M427.8 33.9h0M427.8 31.5h0M430.3 33.3h0M430.3 34.6h0M430.3 31.6h0M430.3 36.4h0M433.2 31.4h0M433.2 32.2h0M435.9 34.6h0M435.9 35.1h0M438.5 33.0h0M438.5 34.4h0M438.5 31.1h0M438.5 35.2h0M441.2 34.6h0M441.2 31.5h0M441.2 35.7h0M443.5 33.8h0M443.5 31.7h0M443.5 33.5h0M445.5 33.8h0M445.5 33.8h0M445.5 34.8h0M447.7 31.4h0M447.7 32.2h0M447.7 36.6h0M450.8 35.0h0M450.8 31.3h0M450.8 33.6h0M452.8 34.2h0M452.8 33.8h0M452.8 33.7h0M455.7 32.3h0M455.7 34.7h0M455.7 35.7h0M457.8 32.6h0M457.8 31.2h0M460.1 33.0h0M460.1 33.1h0M460.1 37.4h0M463.0 32.4h0M463.0 31.3h0M465.4 35.4h0M465.4 31.7h0M465.4 34.8h0M467.0 34.2h0M467.0 32.6h0M467.0 35.4h0M469.5 32.6h0M469.5 32.7h0M469.5 34.7h0M469.5 35.4h0M416.0 22.8h0M416.0 31.0h0M471.1 32.0h0M471.1 33.5h0M473.2 36.2h0M473.2 36.6h0M473.2 34.1h0M473.2 38.3h0M475.8 34.8h0M475.8 32.2h0M477.9 33.4h0M477.9 36.8h0M480.4 35.7h0M480.4 36.3h0M480.4 34.3h0M480.4 37.7h0M482.2 36.6h0M482.2 32.3h0M484.3 35.3h0M484.3 36.2h0M484.3 35.9h0M484.3 37.9h0M486.9 35.9h0M486.9 34.5h0M486.9 33.3h0M489.6 36.9h0M489.6 34.5h0M489.6 33.8h0M492.0 34.9h0M492.0 36.5h0M492.0 37.0h0M494.2 36.2h0M494.2 34.1h0M494.2 35.4h0M494.2 35.7h0M496.7 34.3h0M496.7 37.9h0M496.7 36.4h0M499.8 35.2h0M499.8 37.5h0M502.5 34.1h0M502.5 34.9h0M502.5 37.8h0M505.2 34.4h0M505.2 36.4h0M505.2 38.6h0M507.4 38.7h0M507.4 36.3h0M507.4 34.1h0M507.4 40.4h0M510.5 37.1h0M510.5 36.8h0M510.5 38.9h0M512.7 37.7h0M512.7 37.7h0M512.7 34.5h0M512.7 40.3h0M515.2 37.4h0M515.2 36.6h0M517.3 37.6h0M517.3 39.5h0M517.3 37.8h0M520.0 34.9h0M520.0 37.5h0M520.0 39.8h0M522.3 35.9h0M522.3 37.9h0M522.3 36.5h0M522.3 39.1h0M525.0 39.7h0M525.0 39.7h0M525.0 37.0h0M526.8 37.6h0M526.8 37.0h0M529.0 35.9h0M529.0 38.9h0M529.0 36.4h0M529.0 38.9h0M531.0 38.8h0M531.0 36.7h0M531.0 36.3h0M533.7 37.7h0M533.7 38.3h0M533.7 43.2h0M536.1 39.0h0M536.1 40.4h0M536.1 36.4h0M538.5 37.8h0M538.5 38.6h0M538.5 40.6h0M541.2 39.4h0M541.2 40.0h0M541.2 41.9h0M541.2 41.2h0M542.7 41.8h0M542.7 40.6h0M542.7 43.0h0M545.0 42.1h0M545.0 42.3h0M545.0 42.3h0M547.8 41.6h0M547.8 41.0h0M549.9 41.0h0M549.9 41.0h0M549.9 41.8h0M549.9 44.0h0M552.3 42.9h0M552.3 41.0h0M555.1 39.2h0M555.1 38.9h0M557.6 40.6h0M557.6 39.6h0M559.9 40.2h0M559.9 42.1h0M562.5 43.1h0M562.5 40.1h0M564.6 41.5h0M564.6 40.0h0M564.6 43.9h0M567.4 44.5h0M567.4 45.1h0M569.4 43.1h0M569.4 40.6h0M569.4 44.6h0M571.8 44.5h0M571.8 41.3h0M571.8 45.5h0M573.5 44.9h0M573.5 45.8h0M573.5 44.2h0M576.1 44.3h0M576.1 43.6h0M576.1 45.1h0M578.1 43.1h0M578.1 41.9h0M578.1 41.6h0M578.1 49.5h0M580.7 42.8h0M580.7 46.4h0M580.7 49.0h0M583.1 42.6h0M583.1 45.2h0M586.1 42.5h0M586.1 46.9h0M586.1 49.5h0M588.5 44.3h0M588.5 46.0h0M591.3 46.9h0M591.3 44.3h0M591.3 51.1h0M593.0 45.1h0M593.0 44.8h0M593.0 48.3h0M596.0 47.4h0M596.0 48.4h0M596.0 51.7h0M596.0 50.8h0M599.1 49.8h0M599.1 48.9h0M599.1 53.4h0M601.8 46.0h0M601.8 48.1h0M601.8 52.3h0M601.8 62.8h0M604.9 48.8h0M604.9 46.6h0M604.9 60.3h0M608.6 48.5h0M608.6 54.0h0M610.9 55.1h0M610.9 53.6h0M610.9 89.5h0M610.9 94.6h0M614.6 52.3h0M614.6 83.3h0M614.6 93.1h0M617.8 58.3h0M617.8 90.9h0M620.8 55.6h0M620.8 61.0h0M620.8 119.6h0M623.7 60.1h0M623.7 62.5h0M623.7 81.9h0M623.7 76.5h0M626.9 70.8h0M626.9 86.1h0M626.9 72.9h0M630.8 74.9h0M630.8 76.3h0M630.8 128.8h0M633.4 79.8h0M633.4 76.1h0M633.4 93.4h0M633.4 119.6h0M635.7 80.0h0M635.7 81.7h0M635.7 130.3h0M635.7 124.8h0M639.3 81.6h0M639.3 102.5h0M639.3 109.3h0M642.2 93.3h0M642.2 96.4h0M642.2 106.4h0M645.5 100.4h0M645.5 123.2h0M648.6 100.2h0M648.6 97.8h0M648.6 127.4h0M652.1 116.5h0M652.1 114.5h0M652.1 133.5h0M655.3 121.1h0M655.3 121.8h0M658.7 123.4h0M658.7 121.3h0M658.7 178.8h0M661.7 124.9h0M664.6 129.5h0M664.6 129.8h0M667.5 131.8h0M667.5 132.1h0M669.9 132.9h0M669.9 134.4h0M673.4 137.0h0M675.9 137.2h0M675.9 137.7h0M675.9 140.9h0M678.7 136.8h0M678.7 139.5h0M681.6 141.1h0M681.6 140.0h0M683.7 139.8h0M683.7 160.4h0M687.1 142.5h0M687.1 140.9h0M687.1 150.5h0M690.6 144.7h0M690.6 145.8h0M690.6 178.9h0" stroke="#f08430" stroke-width="2.25" stroke-linecap="round" fill="none"/>
<line x1="473.9" y1="19.2" x2="473.9" y2="199.2" stroke="#707070" stroke-width="1.4"/>
<line x1="595.4" y1="19.2" x2="595.4" y2="199.2" stroke="#444" stroke-width="1.3"/>
<line x1="640.2" y1="19.2" x2="640.2" y2="199.2" stroke="#3a3a3a" stroke-width="1.4" stroke-dasharray="2,1.7"/>
<text x="362.6" y="13.0" font-size="18.5" fill="#111" stroke="#111" stroke-width="0.35" text-anchor="start" textLength="13.8" lengthAdjust="spacingAndGlyphs" >b)</text>
<text x="551.2" y="13.4" font-size="9.8" fill="#222" stroke="#222" stroke-width="0.3" text-anchor="middle" textLength="29" lengthAdjust="spacingAndGlyphs" >CaTiO<tspan font-size="6.5" dy="1.8">3</tspan></text>
<text transform="translate(374.8,109.5) rotate(-90)" font-size="9.0" fill="#3434a6" stroke="#3434a6" stroke-width="0.28" text-anchor="middle" textLength="74" lengthAdjust="spacingAndGlyphs" >Average Power (W)</text>
<text transform="translate(723.6,110.6) rotate(-90)" font-size="9.6" fill="#f38a3c" stroke="#f38a3c" stroke-width="0.28" text-anchor="middle" textLength="91.5" lengthAdjust="spacingAndGlyphs" >Alpha coefficient value</text>
<text x="551.0" y="222.8" font-size="10" fill="#222" stroke="#222" stroke-width="0.08" text-anchor="middle" textLength="91" lengthAdjust="spacingAndGlyphs" >Peak to peak voltage (V)</text>
<text transform="translate(414.0,165.8) rotate(-90)" font-size="7.5" fill="#222" stroke="#222" stroke-width="0.08" text-anchor="middle" textLength="29" lengthAdjust="spacingAndGlyphs" >No Plasma</text>
<text transform="translate(482.4,131.3) rotate(-90)" font-size="7.5" fill="#222" stroke="#222" stroke-width="0.08" text-anchor="middle" textLength="73" lengthAdjust="spacingAndGlyphs" >Plasma on – Polar Streamer</text>
<text transform="translate(602.4,165.9) rotate(-90)" font-size="7.5" fill="#222" stroke="#222" stroke-width="0.08" text-anchor="middle" textLength="47" lengthAdjust="spacingAndGlyphs" >Unstable streamer</text>
<text transform="translate(652.8,166.1) rotate(-90)" font-size="7.5" fill="#222" stroke="#222" stroke-width="0.08" text-anchor="middle" textLength="40.5" lengthAdjust="spacingAndGlyphs" >Stable streamer</text>
<line x1="32.2" y1="260.3" x2="324.6" y2="260.3" stroke="#d4d4d4" stroke-width="0.9"/>
<path d="M32.2 245.5H324.6M32.2 430.0H324.6" stroke="#444" stroke-width="1" fill="none"/>
<path d="M47.5 245.5v1.4M47.5 430.0v-1.4M62.9 245.5v1.4M62.9 430.0v-1.4M78.4 245.5v1.4M78.4 430.0v-1.4M93.8 245.5v1.4M93.8 430.0v-1.4M109.3 245.5v2.2M109.3 430.0v-2.2M124.8 245.5v1.4M124.8 430.0v-1.4M140.2 245.5v1.4M140.2 430.0v-1.4M155.7 245.5v1.4M155.7 430.0v-1.4M171.1 245.5v1.4M171.1 430.0v-1.4M186.6 245.5v2.2M186.6 430.0v-2.2M202.1 245.5v1.4M202.1 430.0v-1.4M217.5 245.5v1.4M217.5 430.0v-1.4M233.0 245.5v1.4M233.0 430.0v-1.4M248.4 245.5v1.4M248.4 430.0v-1.4M263.9 245.5v2.2M263.9 430.0v-2.2M279.4 245.5v1.4M279.4 430.0v-1.4M294.8 245.5v1.4M294.8 430.0v-1.4M310.3 245.5v1.4M310.3 430.0v-1.4" stroke="#444" stroke-width="0.8"/>
<line x1="32.2" y1="245.5" x2="32.2" y2="430.0" stroke="#6f6fd2" stroke-width="1.1"/>
<path d="M32.2 429.8h2.2M32.2 417.4h1.3M32.2 410.1h1.3M32.2 405.0h1.3M32.2 401.0h1.3M32.2 397.7h1.3M32.2 395.0h1.3M32.2 392.6h1.3M32.2 390.5h1.3M32.2 388.6h2.2M32.2 376.2h1.3M32.2 369.0h1.3M32.2 363.8h1.3M32.2 359.8h1.3M32.2 356.6h1.3M32.2 353.8h1.3M32.2 351.4h1.3M32.2 349.3h1.3M32.2 347.4h2.2M32.2 335.0h1.3M32.2 327.8h1.3M32.2 322.7h1.3M32.2 318.7h1.3M32.2 315.4h1.3M32.2 312.6h1.3M32.2 310.3h1.3M32.2 308.2h1.3M32.2 306.3h2.2M32.2 293.9h1.3M32.2 286.6h1.3M32.2 281.5h1.3M32.2 277.5h1.3M32.2 274.2h1.3M32.2 271.5h1.3M32.2 269.1h1.3M32.2 267.0h1.3M32.2 265.1h2.2M32.2 252.7h1.3" stroke="#6f6fd2" stroke-width="0.7"/>
<text x="30.7" y="267.7" font-size="7.6" fill="#3434a6" stroke="#3434a6" stroke-width="0.28" text-anchor="end">10</text>
<text x="30.7" y="308.9" font-size="7.6" fill="#3434a6" stroke="#3434a6" stroke-width="0.28" text-anchor="end">1</text>
<text x="30.7" y="350.0" font-size="7.6" fill="#3434a6" stroke="#3434a6" stroke-width="0.28" text-anchor="end">0.100</text>
<text x="30.7" y="391.2" font-size="7.6" fill="#3434a6" stroke="#3434a6" stroke-width="0.28" text-anchor="end">0.010</text>
<text x="30.7" y="432.4" font-size="7.6" fill="#3434a6" stroke="#3434a6" stroke-width="0.28" text-anchor="end">0.001</text>
<line x1="324.6" y1="245.5" x2="324.6" y2="430.0" stroke="#f7a66a" stroke-width="1.2"/>
<path d="M324.6 428.9h-1.3M324.6 421.3h-1.3M324.6 413.6h-2.2M324.6 405.9h-1.3M324.6 398.3h-1.3M324.6 390.6h-1.3M324.6 382.9h-2.2M324.6 375.3h-1.3M324.6 367.6h-1.3M324.6 359.9h-1.3M324.6 352.3h-2.2M324.6 344.6h-1.3M324.6 336.9h-1.3M324.6 329.3h-1.3M324.6 321.6h-2.2M324.6 314.0h-1.3M324.6 306.3h-1.3M324.6 298.6h-1.3M324.6 291.0h-2.2M324.6 283.3h-1.3M324.6 275.6h-1.3M324.6 268.0h-1.3M324.6 260.3h-2.2M324.6 252.6h-1.3" stroke="#f7a66a" stroke-width="0.7"/>
<text x="326.2" y="416.2" font-size="7.6" fill="#f38a3c" stroke="#f38a3c" stroke-width="0.28">0.0</text>
<text x="326.2" y="385.5" font-size="7.6" fill="#f38a3c" stroke="#f38a3c" stroke-width="0.28">0.2</text>
<text x="326.2" y="354.9" font-size="7.6" fill="#f38a3c" stroke="#f38a3c" stroke-width="0.28">0.4</text>
<text x="326.2" y="324.2" font-size="7.6" fill="#f38a3c" stroke="#f38a3c" stroke-width="0.28">0.6</text>
<text x="326.2" y="293.5" font-size="7.6" fill="#f38a3c" stroke="#f38a3c" stroke-width="0.28">0.8</text>
<text x="326.2" y="262.9" font-size="7.6" fill="#f38a3c" stroke="#f38a3c" stroke-width="0.28">1.0</text>
<text x="32.0" y="438.0" font-size="7.6" fill="#222" stroke="#222" stroke-width="0.08" text-anchor="middle">0</text>
<text x="109.3" y="438.0" font-size="7.6" fill="#222" stroke="#222" stroke-width="0.08" text-anchor="middle">5000</text>
<text x="186.6" y="438.0" font-size="7.6" fill="#222" stroke="#222" stroke-width="0.08" text-anchor="middle">10 000</text>
<text x="263.9" y="438.0" font-size="7.6" fill="#222" stroke="#222" stroke-width="0.08" text-anchor="middle">15 000</text>
<path d="M43.6 255.9V258.5M46.3 262.4V263.1M49.0 260.3V260.9M52.0 261.4V265.4M55.7 261.2V263.2M59.9 262.9V263.3M63.1 261.8V262.3M66.2 261.0V264.2M68.6 260.8V264.6M72.2 261.0V264.5M75.5 260.4V263.8M79.8 261.3V262.1M83.0 261.8V261.9M86.0 260.5V264.1M89.8 262.1V264.1M93.3 261.8V263.9M97.2 261.7V265.6M101.3 264.0V264.3M104.1 261.0V265.5M107.1 261.2V264.9M110.7 261.6V263.1M114.8 262.8V265.1M118.3 263.2V263.7M121.3 262.0V264.6M124.4 265.0V265.2M127.3 261.4V266.1M130.4 261.9V264.8M133.1 261.6V264.4M136.6 263.8V265.7M140.2 261.7V265.0M143.8 262.7V264.3M146.7 262.4V267.0M150.1 263.3V264.9M153.1 263.4V265.4M156.8 263.8V267.0M160.2 263.7V264.7M163.6 264.3V266.9M167.2 262.6V265.8M171.1 264.5V266.5M174.1 264.3V265.7M177.9 262.4V266.5M181.3 263.3V267.4M184.3 262.7V263.4M187.4 264.1V264.7M190.4 264.8V264.9M193.9 263.4V266.7M205.3 265.0V268.4M207.2 265.6V269.4M209.8 265.4V269.9M212.1 266.6V269.8M214.1 265.9V270.0M218.1 265.1V282.8M221.0 266.7V275.1M223.8 268.6V281.7M226.3 271.9V287.2M228.4 273.3V279.0M232.1 276.9V296.5M235.5 276.8V278.4M239.5 278.9V301.9M243.4 282.0V299.1M251.9 297.5V313.2M255.0 298.0V430.0M255.0 298.0V351.5M258.2 291.8V300.6M262.0 295.3V328.1M263.9 304.4V313.2M266.4 315.5V380.2M270.1 309.1V331.6M276.0 328.7V430.0M276.0 328.7V364.8M279.3 331.1V430.0M279.3 331.1V397.2M284.0 333.6V343.6M288.2 335.6V388.0M291.6 342.4V406.1M295.9 347.4V403.4M300.2 344.1V377.9M305.0 345.2V379.4M309.8 351.0V404.1M313.2 355.8V430.0M313.2 355.8V403.0M318.0 353.0V430.0M318.0 353.0V409.2" stroke="#cfcfcf" stroke-width="0.9" fill="none"/>
<path d="M91.9 426.1V428.3M91.9 428.6V429.4M95.0 424.0V427.1M95.0 427.7V429.4M98.0 421.2V426.2M98.0 426.9V429.4M101.2 419.6V422.7M101.2 423.5V427.7M101.2 428.1V429.4M104.0 416.8V424.4M104.0 425.3V429.4M107.2 413.6V417.2M107.2 417.8V421.9M107.2 422.7V429.4M109.9 410.9V418.2M109.9 418.8V421.6M112.9 408.3V411.0M112.9 411.5V417.3M112.9 417.5V424.4M116.0 406.7V412.7M116.0 419.8V421.9M116.0 424.2V425.2M119.0 403.7V409.4M119.0 410.0V416.0M119.0 416.6V419.2M122.1 408.2V413.2M122.1 413.7V416.2M124.9 400.7V403.4M124.9 404.1V408.3M124.9 409.0V412.8M124.9 413.4V415.0M124.9 416.3V417.3M128.1 398.9V404.8M128.1 405.3V409.0M128.1 409.6V411.9M128.1 398.7V399.7M131.1 398.4V401.4M131.1 402.2V405.8M131.1 406.3V409.5M131.1 397.7V398.7M134.2 403.4V407.2M136.9 394.6V397.4M136.9 397.8V403.0M140.0 392.6V395.8M140.0 396.4V400.8M140.0 401.7V402.9M143.0 392.3V395.0M143.0 395.8V398.5M143.0 399.3V399.9M146.1 389.1V392.4M146.1 392.9V396.6M146.1 396.8V397.7M146.1 400.2V401.2M148.8 387.9V391.0M148.8 391.7V395.4M152.0 385.3V388.6M152.0 389.4V392.8M155.0 384.4V387.1M155.0 387.8V390.2M158.1 381.7V384.4M158.1 385.1V389.6M161.0 379.5V382.0M161.0 382.8V385.4M161.0 385.6V387.8M163.8 383.4V386.0M167.1 376.0V381.0M167.1 381.4V384.6M167.1 375.7V376.7M170.1 374.8V378.0M170.1 378.5V381.0M170.1 381.9V382.5M173.1 373.5V377.0M173.1 377.8V380.4M175.9 371.2V375.0M179.0 370.5V373.5M179.0 373.7V377.1M179.0 377.5V378.3M179.0 379.3V380.3M182.0 368.2V373.1M182.0 373.6V377.2M185.2 366.6V369.7M185.2 370.3V374.8M185.2 364.6V365.6M188.1 366.0V369.1M188.1 369.6V373.2M188.1 373.4V374.5M188.1 375.6V376.6M190.8 363.8V367.6M190.8 368.2V372.4M190.8 363.2V364.2M193.8 366.6V371.1M193.8 371.5V371.9M193.8 373.7V374.7M197.1 361.6V365.0M197.1 365.7V369.3M200.1 358.4V363.6M200.1 364.5V367.6M200.1 368.3V369.6M202.9 354.2V360.7M202.9 361.2V367.7M202.9 368.5V369.5M206.0 350.2V354.6M206.0 355.1V360.6M206.0 361.0V367.8M206.0 349.5V350.5M209.1 345.8V350.6M209.1 351.4V358.0M209.1 358.3V363.0M209.1 363.6V364.8M211.8 342.6V350.3M211.8 350.9V356.6M211.8 357.5V363.7M215.0 338.2V344.9M215.0 345.5V350.9M215.0 351.2V356.6M215.0 357.2V360.5M218.2 332.8V338.7M218.2 339.1V342.9M218.2 343.5V351.1M218.2 351.9V358.2M220.9 328.8V336.1M220.9 336.8V342.0M220.9 342.2V345.1M220.9 345.4V350.7M220.9 351.2V356.1M220.9 356.5V357.6M220.9 363.1V364.1M223.9 323.1V328.9M223.9 329.1V332.8M223.9 333.1V338.1M223.9 338.4V341.9M223.9 342.2V344.8M223.9 345.2V350.4M223.9 350.6V354.6M223.9 317.7V318.7M226.8 319.1V322.1M226.8 322.4V328.3M226.8 328.6V331.4M226.8 331.8V338.6M226.8 339.5V343.6M226.8 344.0V351.0M226.8 351.4V351.8M229.8 312.6V316.0M229.8 316.3V322.4M229.8 322.7V330.6M229.8 339.1V343.3M229.8 344.1V347.1M229.8 347.9V349.2M233.2 307.8V314.3M233.2 314.9V322.5M233.2 323.0V326.8M233.2 327.3V331.3M233.2 332.0V337.8M233.2 338.3V343.5M233.2 344.2V346.8M233.2 347.5V347.9M236.1 304.7V309.7M236.1 310.4V314.7M236.1 320.0V325.6M236.1 325.8V331.9M236.1 332.1V335.5M236.1 336.1V338.7M236.1 339.5V343.3M236.1 343.7V346.0M238.9 300.9V308.0M238.9 308.2V316.0M238.9 316.8V319.8M238.9 320.2V327.2M238.9 327.9V334.6M238.9 335.0V340.8M238.9 341.1V342.9M238.9 349.4V350.4M242.1 298.1V303.3M242.1 303.9V310.4M242.1 311.1V316.9M242.1 317.3V325.3M242.1 325.8V328.8M242.1 329.1V336.7M242.1 337.5V341.5M245.0 296.8V304.6M245.0 315.3V318.3M245.0 318.7V324.1M245.0 324.3V330.9M245.0 331.4V335.8M245.0 336.5V340.5M247.8 300.1V307.4M247.8 307.8V312.0M247.8 312.5V318.0M247.8 318.8V322.9M247.8 323.7V330.7M247.8 331.0V338.0M247.8 290.4V291.4M251.0 291.5V299.4M251.0 299.8V302.3M251.0 302.8V305.6M251.0 305.8V310.0M251.0 310.8V315.6M251.0 315.8V320.7M251.0 321.4V328.9M251.0 329.3V332.5M251.0 333.2V336.7M251.0 277.4V278.4M254.1 289.4V294.5M254.1 295.3V302.3M254.1 302.8V308.2M254.1 315.3V320.1M254.1 320.6V327.5M254.1 328.4V331.7M254.1 332.3V334.4M257.0 287.4V292.9M257.0 293.3V299.7M257.0 300.0V306.1M257.0 318.7V323.3M257.0 328.5V330.0M257.0 287.9V288.9M259.8 287.0V289.9M259.8 290.7V297.8M259.8 298.6V301.1M259.8 302.0V304.8M259.8 305.4V309.3M259.8 313.7V321.2M259.8 322.1V325.6M259.8 328.1V329.1M262.9 290.6V295.2M262.9 295.7V303.6M262.9 303.9V307.2M262.9 307.7V315.2M262.9 286.3V287.3M266.0 286.4V289.1M266.0 289.8V296.6M266.0 297.1V302.6M266.0 303.1V310.2M266.0 310.8V318.1M269.1 284.9V288.5M269.1 289.4V294.2M269.1 294.4V297.0M269.1 297.8V305.7M269.1 306.3V313.0M269.1 313.6V314.2M269.1 317.8V318.8M271.9 293.3V300.4M271.9 301.3V305.3M271.9 305.8V311.8M271.9 315.2V316.2M275.0 284.4V292.3M275.0 292.8V298.7M275.0 299.2V306.4M275.0 306.6V311.0M275.0 280.8V281.8M278.2 283.7V290.1M278.2 290.5V295.8M278.2 296.3V302.4M278.2 303.0V306.3M278.2 306.7V309.9M278.2 276.4V277.4M281.0 284.0V290.6M281.0 291.3V298.9M281.0 299.5V302.7M281.0 303.2V308.2M281.0 312.6V313.6M283.8 282.1V284.6M283.8 284.9V289.0M283.8 289.5V294.4M283.8 295.1V300.0M283.8 300.8V306.7M287.2 281.6V286.8M287.2 287.6V294.7M287.2 295.1V300.8M287.2 301.2V305.0M287.2 309.5V310.5M290.0 281.0V286.1M290.0 291.4V296.8M290.0 297.2V304.1M292.9 281.1V288.4M292.9 288.7V291.5M292.9 291.9V295.5M292.9 303.2V303.7M292.9 277.3V278.3M296.0 280.3V283.1M296.0 283.6V287.1M296.0 287.5V293.8M296.0 294.0V297.8M296.0 298.4V302.1M299.0 278.3V282.9M299.0 283.5V289.5M299.0 289.7V296.6M299.0 297.1V300.6M301.9 283.3V286.7M301.9 287.2V293.7M301.9 294.0V299.4M305.1 276.8V282.5M305.1 282.8V285.8M305.1 286.4V290.6M307.9 275.1V281.6M307.9 282.2V287.8M307.9 288.5V294.1M307.9 294.3V296.1M307.9 271.1V272.1M311.0 275.0V277.8M311.0 278.2V283.4M311.0 290.0V293.7M311.0 274.6V275.6M313.8 274.7V279.5M313.8 280.4V283.9M313.8 284.5V288.1M313.8 289.0V292.9M313.8 297.2V298.2M316.9 272.9V277.2M316.9 277.5V283.7M316.9 284.2V288.8M316.9 289.5V292.2M319.9 272.1V276.7M319.9 277.0V283.0M232.4 326.8V327.9M216.1 296.3V297.4M239.4 319.6V320.7M224.5 319.5V320.6M214.5 311.8V312.9M230.1 314.2V315.3M214.8 295.5V296.6M228.7 325.4V326.5M214.1 290.3V291.4M212.5 321.4V322.5M221.7 308.2V309.3M239.8 314.4V315.5M217.9 318.0V319.1M210.1 301.3V302.4M231.0 296.8V297.9M211.0 310.7V311.8M219.8 328.8V329.9M213.0 322.1V323.2M221.7 322.2V323.3M223.4 316.7V317.8M219.8 299.0V300.1M223.6 322.0V323.1M220.4 299.2V300.3M222.5 293.8V294.9M219.5 312.9V314.0M226.4 313.9V315.0M218.7 291.0V292.1M210.8 303.6V304.7M215.9 312.8V313.9M218.0 320.5V321.6M228.0 316.5V317.6M232.1 310.9V312.0M222.8 302.3V303.4M211.9 321.8V322.9M225.0 294.0V295.1M237.8 313.3V314.4M228.7 307.5V308.6M213.8 330.0V331.1M215.0 304.6V305.7M240.0 294.9V296.0M270.0 321.6V322.7M254.9 341.6V342.7M264.9 300.5V301.6M268.4 300.2V301.3M282.5 339.1V340.2M294.3 302.2V303.3M280.5 313.7V314.8M268.4 313.5V314.6M258.3 306.0V307.1M277.5 304.0V305.1M297.9 302.0V303.1M297.8 308.6V309.7M245.0 333.5V334.6M271.9 334.6V335.7M270.5 328.4V329.5M245.0 330.3V331.4M270.7 343.3V344.4M240.4 303.1V304.2M280.6 341.7V342.8M265.3 332.0V333.1M273.6 317.6V318.7M267.9 327.1V328.2M241.7 313.8V314.9M284.3 311.6V312.7M268.4 311.6V312.7M304.5 258.3V259.4" stroke="#4d79bc" stroke-width="1.4" fill="none"/>
<path d="M43.6 255.9h0M43.6 257.8h0M43.6 258.5h0M46.3 263.1h0M46.3 263.0h0M46.3 262.4h0M49.0 260.9h0M49.0 260.7h0M49.0 260.3h0M52.0 263.8h0M52.0 262.4h0M52.0 261.4h0M52.0 265.4h0M55.7 261.6h0M55.7 263.2h0M55.7 261.2h0M59.9 262.9h0M59.9 263.3h0M63.1 261.8h0M63.1 262.3h0M63.1 262.0h0M66.2 264.2h0M66.2 261.0h0M68.6 260.8h0M68.6 262.8h0M68.6 264.6h0M72.2 261.0h0M72.2 263.3h0M72.2 264.5h0M75.5 261.5h0M75.5 260.4h0M75.5 263.8h0M79.8 261.3h0M79.8 261.3h0M79.8 262.1h0M83.0 261.9h0M83.0 261.8h0M86.0 260.5h0M86.0 263.4h0M86.0 264.1h0M89.8 264.1h0M89.8 262.1h0M89.8 263.4h0M93.3 262.7h0M93.3 261.8h0M93.3 263.9h0M97.2 262.7h0M97.2 261.7h0M97.2 265.6h0M101.3 264.0h0M101.3 264.3h0M101.3 264.3h0M104.1 261.0h0M104.1 264.7h0M104.1 265.5h0M107.1 263.6h0M107.1 261.2h0M107.1 264.9h0M107.1 263.2h0M110.7 263.1h0M110.7 261.6h0M114.8 262.8h0M114.8 263.4h0M114.8 264.8h0M114.8 265.1h0M118.3 263.3h0M118.3 263.4h0M118.3 263.2h0M118.3 263.7h0M121.3 264.1h0M121.3 262.0h0M121.3 264.6h0M124.4 265.0h0M124.4 265.2h0M127.3 262.9h0M127.3 263.5h0M127.3 261.4h0M127.3 266.1h0M130.4 261.9h0M130.4 264.8h0M133.1 264.4h0M133.1 261.6h0M136.6 263.8h0M136.6 265.7h0M140.2 265.0h0M140.2 264.7h0M140.2 261.7h0M143.8 262.7h0M143.8 264.3h0M146.7 264.7h0M146.7 262.4h0M146.7 265.0h0M146.7 267.0h0M150.1 264.2h0M150.1 263.3h0M150.1 264.9h0M153.1 263.4h0M153.1 265.3h0M153.1 265.3h0M153.1 265.4h0M156.8 264.6h0M156.8 263.8h0M156.8 266.2h0M156.8 267.0h0M160.2 264.7h0M160.2 263.7h0M163.6 264.8h0M163.6 264.3h0M163.6 264.4h0M163.6 266.9h0M167.2 262.6h0M167.2 265.2h0M167.2 265.8h0M167.2 265.7h0M171.1 266.5h0M171.1 266.3h0M171.1 264.5h0M174.1 264.3h0M174.1 264.8h0M174.1 265.7h0M177.9 262.4h0M177.9 264.4h0M177.9 266.5h0M181.3 263.3h0M181.3 264.5h0M181.3 265.0h0M181.3 267.4h0M184.3 263.4h0M184.3 262.7h0M187.4 264.7h0M187.4 264.1h0M190.4 264.8h0M190.4 264.9h0M193.9 263.4h0M193.9 264.0h0M193.9 263.9h0M193.9 266.7h0M205.3 265.0h0M205.3 268.4h0M205.3 267.9h0M207.2 269.4h0M207.2 265.6h0M209.8 265.4h0M209.8 269.9h0M212.1 268.7h0M212.1 266.6h0M212.1 269.8h0M214.1 270.0h0M214.1 265.9h0M218.1 265.1h0M218.1 269.4h0M218.1 282.8h0M221.0 268.9h0M221.0 271.1h0M221.0 266.7h0M221.0 275.1h0M223.8 268.6h0M223.8 269.4h0M223.8 281.7h0M226.3 272.6h0M226.3 273.2h0M226.3 271.9h0M226.3 281.7h0M226.3 287.2h0M228.4 273.3h0M228.4 274.2h0M228.4 279.0h0M228.4 275.4h0M232.1 280.6h0M232.1 276.9h0M232.1 296.5h0M235.5 276.8h0M235.5 278.4h0M239.5 283.2h0M239.5 278.9h0M239.5 301.9h0M243.4 282.0h0M243.4 299.1h0M247.2 284.8h0M251.9 297.5h0M251.9 313.2h0M255.0 298.0h0M255.0 351.5h0M258.2 291.8h0M258.2 300.6h0M262.0 299.1h0M262.0 295.3h0M262.0 328.1h0M263.9 310.7h0M263.9 304.4h0M263.9 313.2h0M266.4 315.5h0M266.4 340.4h0M266.4 380.2h0M270.1 309.1h0M270.1 309.5h0M270.1 331.6h0M276.0 328.7h0M276.0 334.7h0M276.0 364.8h0M279.3 331.1h0M279.3 336.9h0M279.3 397.2h0M279.3 342.9h0M284.0 333.6h0M284.0 343.6h0M288.2 335.6h0M288.2 388.0h0M291.6 342.4h0M291.6 406.1h0M291.6 388.5h0M295.9 347.4h0M295.9 403.4h0M300.2 350.5h0M300.2 344.1h0M300.2 363.4h0M300.2 377.9h0M305.0 345.2h0M305.0 354.5h0M305.0 379.4h0M309.8 351.0h0M309.8 404.1h0M313.2 355.8h0M313.2 403.0h0M318.0 353.0h0M318.0 355.3h0M318.0 358.0h0M318.0 409.2h0" stroke="#f08430" stroke-width="2.25" stroke-linecap="round" fill="none"/>
<line x1="106.1" y1="245.5" x2="106.1" y2="430.0" stroke="#2a2a2a" stroke-width="1.9"/>
<line x1="198.5" y1="245.5" x2="198.5" y2="430.0" stroke="#444" stroke-width="1.3" stroke-dasharray="2,1.7"/>
<line x1="216.9" y1="245.5" x2="216.9" y2="430.0" stroke="#2a2a2a" stroke-width="1.9"/>
<line x1="270.9" y1="245.5" x2="270.9" y2="430.0" stroke="#444" stroke-width="1.3" stroke-dasharray="2,1.7"/>
<text x="3.3" y="239.8" font-size="18.5" fill="#111" stroke="#111" stroke-width="0.35" text-anchor="start" textLength="13.2" lengthAdjust="spacingAndGlyphs" >c)</text>
<text x="178.8" y="240.4" font-size="8" fill="#222" stroke="#222" stroke-width="0.3" text-anchor="middle" textLength="74.5" lengthAdjust="spacingAndGlyphs" >Yttria Stabilised Zirconia</text>
<text transform="translate(9.4,337.3) rotate(-90)" font-size="7.6" fill="#3434a6" stroke="#3434a6" stroke-width="0.28" text-anchor="middle" textLength="33" lengthAdjust="spacingAndGlyphs" >Power (W)</text>
<text transform="translate(346.0,337.6) rotate(-90)" font-size="7.6" fill="#f38a3c" stroke="#f38a3c" stroke-width="0.28" text-anchor="middle" textLength="73.5" lengthAdjust="spacingAndGlyphs" >Alpha coefficient value</text>
<text transform="translate(115.0,342.3) rotate(-90)" font-size="7.6" fill="#222" stroke="#222" stroke-width="0.08" text-anchor="middle" textLength="90.5" lengthAdjust="spacingAndGlyphs" >Plasma on – Townsend Discharge</text>
<text transform="translate(207.6,396.4) rotate(-90)" font-size="7.6" fill="#222" stroke="#222" stroke-width="0.08" text-anchor="middle" textLength="40" lengthAdjust="spacingAndGlyphs" >Polar Streamer</text>
<text transform="translate(225.8,395.7) rotate(-90)" font-size="7.6" fill="#222" stroke="#222" stroke-width="0.08" text-anchor="middle" textLength="49.5" lengthAdjust="spacingAndGlyphs" >Unstable Streamer</text>
<text transform="translate(284.8,396.0) rotate(-90)" font-size="7.6" fill="#222" stroke="#222" stroke-width="0.08" text-anchor="middle" textLength="42" lengthAdjust="spacingAndGlyphs" >Stable Streamer</text>
<line x1="406.2" y1="258.8" x2="697.2" y2="258.8" stroke="#d4d4d4" stroke-width="0.9"/>
<path d="M406.2 244.2H697.2M406.2 424.1H697.2" stroke="#444" stroke-width="1" fill="none"/>
<path d="M421.3 244.2v1.4M421.3 424.1v-1.4M437.0 244.2v1.4M437.0 424.1v-1.4M452.6 244.2v1.4M452.6 424.1v-1.4M468.3 244.2v1.4M468.3 424.1v-1.4M483.9 244.2v2.2M483.9 424.1v-2.2M499.5 244.2v1.4M499.5 424.1v-1.4M515.2 244.2v1.4M515.2 424.1v-1.4M530.8 244.2v1.4M530.8 424.1v-1.4M546.5 244.2v1.4M546.5 424.1v-1.4M562.1 244.2v2.2M562.1 424.1v-2.2M577.7 244.2v1.4M577.7 424.1v-1.4M593.4 244.2v1.4M593.4 424.1v-1.4M609.0 244.2v1.4M609.0 424.1v-1.4M624.7 244.2v1.4M624.7 424.1v-1.4M640.3 244.2v2.2M640.3 424.1v-2.2M655.9 244.2v1.4M655.9 424.1v-1.4M671.6 244.2v1.4M671.6 424.1v-1.4M687.2 244.2v1.4M687.2 424.1v-1.4" stroke="#444" stroke-width="0.8"/>
<line x1="406.2" y1="244.2" x2="406.2" y2="424.1" stroke="#6f6fd2" stroke-width="1.1"/>
<path d="M406.2 412.2h1.3M406.2 405.1h1.3M406.2 400.1h1.3M406.2 396.2h1.3M406.2 393.1h1.3M406.2 390.4h1.3M406.2 388.0h1.3M406.2 386.0h1.3M406.2 384.1h2.2M406.2 372.0h1.3M406.2 365.0h1.3M406.2 359.9h1.3M406.2 356.1h1.3M406.2 352.9h1.3M406.2 350.2h1.3M406.2 347.9h1.3M406.2 345.8h1.3M406.2 344.0h2.2M406.2 331.9h1.3M406.2 324.8h1.3M406.2 319.8h1.3M406.2 315.9h1.3M406.2 312.7h1.3M406.2 310.0h1.3M406.2 307.7h1.3M406.2 305.6h1.3M406.2 303.8h2.2M406.2 291.7h1.3M406.2 284.6h1.3M406.2 279.6h1.3M406.2 275.7h1.3M406.2 272.5h1.3M406.2 269.8h1.3M406.2 267.5h1.3M406.2 265.4h1.3M406.2 263.6h2.2M406.2 251.5h1.3M406.2 244.4h1.3" stroke="#6f6fd2" stroke-width="0.7"/>
<text x="404.7" y="266.8" font-size="9.3" fill="#3434a6" stroke="#3434a6" stroke-width="0.28" text-anchor="end">10</text>
<text x="404.7" y="306.9" font-size="9.3" fill="#3434a6" stroke="#3434a6" stroke-width="0.28" text-anchor="end">1</text>
<text x="404.7" y="347.1" font-size="9.3" fill="#3434a6" stroke="#3434a6" stroke-width="0.28" text-anchor="end">0.100</text>
<text x="404.7" y="387.3" font-size="9.3" fill="#3434a6" stroke="#3434a6" stroke-width="0.28" text-anchor="end">0.010</text>
<text x="404.7" y="427.5" font-size="9.3" fill="#3434a6" stroke="#3434a6" stroke-width="0.28" text-anchor="end">0.001</text>
<line x1="697.2" y1="244.2" x2="697.2" y2="424.1" stroke="#f7a66a" stroke-width="1.2"/>
<path d="M697.2 416.6h-1.3M697.2 409.1h-2.2M697.2 401.6h-1.3M697.2 394.1h-1.3M697.2 386.6h-1.3M697.2 379.0h-2.2M697.2 371.5h-1.3M697.2 364.0h-1.3M697.2 356.5h-1.3M697.2 349.0h-2.2M697.2 341.5h-1.3M697.2 333.9h-1.3M697.2 326.4h-1.3M697.2 318.9h-2.2M697.2 311.4h-1.3M697.2 303.9h-1.3M697.2 296.4h-1.3M697.2 288.9h-2.2M697.2 281.3h-1.3M697.2 273.8h-1.3M697.2 266.3h-1.3M697.2 258.8h-2.2M697.2 251.3h-1.3" stroke="#f7a66a" stroke-width="0.7"/>
<text x="698.8" y="412.3" font-size="9.3" fill="#f38a3c" stroke="#f38a3c" stroke-width="0.28">0.0</text>
<text x="698.8" y="382.2" font-size="9.3" fill="#f38a3c" stroke="#f38a3c" stroke-width="0.28">0.2</text>
<text x="698.8" y="352.1" font-size="9.3" fill="#f38a3c" stroke="#f38a3c" stroke-width="0.28">0.4</text>
<text x="698.8" y="322.1" font-size="9.3" fill="#f38a3c" stroke="#f38a3c" stroke-width="0.28">0.6</text>
<text x="698.8" y="292.0" font-size="9.3" fill="#f38a3c" stroke="#f38a3c" stroke-width="0.28">0.8</text>
<text x="698.8" y="262.0" font-size="9.3" fill="#f38a3c" stroke="#f38a3c" stroke-width="0.28">1.0</text>
<text x="405.7" y="433.9" font-size="9.3" fill="#222" stroke="#222" stroke-width="0.08" text-anchor="middle">0</text>
<text x="483.9" y="433.9" font-size="9.3" fill="#222" stroke="#222" stroke-width="0.08" text-anchor="middle">5000</text>
<text x="562.1" y="433.9" font-size="9.3" fill="#222" stroke="#222" stroke-width="0.08" text-anchor="middle">10 000</text>
<text x="640.3" y="433.9" font-size="9.3" fill="#222" stroke="#222" stroke-width="0.08" text-anchor="middle">15 000</text>
<path d="M416.1 260.8V265.7M418.4 261.8V266.8M420.5 262.5V263.4M422.5 261.4V265.9M425.0 260.8V266.9M427.6 264.4V265.5M429.5 261.5V264.1M432.4 260.3V263.0M434.2 260.7V268.2M436.4 260.8V264.7M438.7 261.3V263.9M440.5 262.1V265.2M443.1 261.2V265.6M445.3 261.4V264.8M447.9 260.6V264.3M450.0 262.0V264.7M452.9 260.7V262.0M455.5 261.3V265.1M458.2 262.7V263.0M460.5 263.5V266.6M463.1 261.8V265.9M464.8 262.6V264.6M467.1 263.7V265.1M470.0 260.6V262.3M472.4 261.0V267.5M474.4 260.5V264.0M476.8 261.7V264.7M479.4 263.2V266.0M481.6 261.4V264.4M483.3 261.2V266.1M485.4 261.4V266.0M488.1 261.3V265.2M490.8 263.5V265.5M492.8 262.5V264.8M494.8 263.9V265.3M497.4 260.5V266.7M499.4 264.2V266.2M501.4 261.4V267.2M503.2 260.7V265.9M505.7 261.2V263.7M507.7 264.6V266.0M509.8 263.6V265.8M511.7 261.6V263.7M513.7 262.0V263.6M516.3 261.3V265.6M518.9 262.0V266.1M521.1 261.8V267.4M523.5 262.7V264.8M525.8 262.8V265.7M528.3 261.0V266.2M530.5 262.2V265.6M532.9 262.5V265.8M534.8 261.8V266.4M537.0 260.8V265.2M539.2 262.3V265.4M541.7 260.7V264.3M543.7 262.7V266.7M545.6 262.3V265.1M547.5 262.9V267.4M550.0 261.2V266.6M551.9 261.1V263.6M554.1 262.5V266.0M556.5 261.8V265.5M559.1 264.2V266.0M428.0 255.5V262.0M561.7 262.0V276.9M563.9 263.9V273.9M566.8 266.7V283.5M568.8 261.2V275.1M571.3 263.6V287.6M574.1 266.4V287.0M576.5 252.7V270.0M578.8 264.5V413.7M581.6 282.6V329.0M584.8 287.2V335.9M587.8 287.1V294.8M590.7 273.6V424.1M590.7 273.6V382.5M593.8 272.2V401.1M596.1 267.4V403.6M598.9 283.4V400.6M602.0 269.3V350.6M605.3 279.5V287.6M607.8 279.5V309.8M610.6 278.8V405.5M612.7 283.8V424.1M612.7 283.8V400.8M615.3 270.5V318.7M617.8 290.1V342.9M620.3 294.0V413.2M623.3 272.5V424.1M623.3 272.5V382.5M625.9 294.2V392.6M629.1 274.4V424.1M629.1 274.4V365.9M631.2 288.8V299.0M634.6 279.1V395.7M637.2 281.3V357.3M640.1 274.9V290.4M643.3 286.5V332.3M649.8 328.4V424.1M649.8 328.4V401.9M653.1 318.2V424.1M653.1 318.2V359.7M656.7 334.1V335.9M660.0 323.2V424.1M660.0 323.2V385.0M662.3 323.6V370.4M665.6 323.7V424.1M665.6 323.7V394.7M668.7 332.6V372.3M672.0 345.9V386.9M674.8 330.3V388.8M678.6 328.2V371.2M681.3 334.7V349.3M684.4 334.9V367.8M687.8 349.5V394.3M690.5 347.9V356.1M693.8 347.8V424.1M693.8 347.8V387.8M682.0 282.7V330.0M688.0 283.0V320.0" stroke="#cfcfcf" stroke-width="0.9" fill="none"/>
<path d="M437.9 419.4V421.3M437.9 421.7V423.5M440.7 416.8V421.2M440.7 422.0V423.5M443.8 416.3V419.1M443.8 419.7V423.5M446.5 414.7V420.2M446.5 420.7V423.5M446.5 413.5V414.5M449.3 411.6V415.5M449.3 420.6V423.5M449.3 411.4V412.4M452.3 410.8V413.9M452.3 414.2V420.7M452.3 421.1V423.5M455.4 409.6V412.2M455.4 413.1V419.7M455.4 420.6V422.6M455.4 405.9V406.9M458.0 408.4V411.0M458.0 411.3V417.5M458.0 404.0V405.0M460.8 406.4V409.1M460.8 409.5V417.1M460.8 417.6V419.1M463.7 404.5V409.3M463.7 410.1V417.1M463.7 417.3V417.7M463.7 419.1V420.1M466.5 403.7V411.6M466.5 412.4V417.3M469.4 408.7V414.8M469.4 415.4V416.4M472.3 404.0V410.2M475.4 401.2V408.5M475.4 409.3V412.5M478.1 396.4V403.8M478.1 404.3V409.7M478.1 409.9V411.3M480.9 394.5V399.8M480.9 400.6V407.7M480.9 408.3V410.7M480.9 394.5V395.5M483.8 393.2V400.6M483.8 401.1V408.3M483.8 408.5V409.4M486.8 393.4V400.7M486.8 401.1V406.3M486.8 406.9V407.6M486.8 410.3V411.3M489.7 392.1V395.9M489.7 403.7V406.3M492.5 391.9V399.2M492.5 399.8V404.7M492.5 390.4V391.4M495.3 391.0V396.7M495.3 397.3V400.3M495.3 401.2V404.6M495.3 386.1V387.1M498.4 397.3V403.0M498.4 403.6V404.1M498.4 406.5V407.5M501.2 393.5V399.3M501.2 400.0V403.1M504.2 388.5V393.1M504.2 393.5V398.1M504.2 398.5V401.4M504.2 404.2V405.2M506.7 386.3V394.2M506.7 394.8V399.1M509.6 385.7V393.4M509.6 394.2V399.2M509.6 400.2V401.2M512.5 384.5V387.7M512.5 388.6V392.7M512.5 393.4V398.3M515.6 384.5V391.0M515.6 391.6V394.9M515.6 395.4V397.9M515.6 383.2V384.2M518.5 383.3V388.1M518.5 391.8V395.1M518.5 395.9V396.3M521.1 390.4V394.9M521.1 395.7V396.3M524.0 382.2V387.9M524.0 388.6V392.4M524.0 393.1V395.3M524.0 398.1V399.1M527.1 381.9V387.8M527.1 388.4V394.3M529.8 380.7V384.5M529.8 384.7V391.3M532.5 380.5V386.1M532.5 386.8V389.5M532.5 389.8V393.0M535.5 379.1V381.7M535.5 382.6V389.2M535.5 389.6V392.3M538.3 377.8V385.4M538.3 386.1V390.9M538.3 391.7V392.1M541.1 377.5V384.8M541.1 388.8V390.5M544.3 377.2V381.4M544.3 382.3V385.6M547.1 377.0V383.3M547.1 384.0V386.7M547.1 387.0V388.8M547.1 391.8V392.8M549.9 386.5V388.2M552.6 373.9V379.1M552.6 379.6V384.1M552.6 384.9V387.3M552.6 372.7V373.7M555.5 373.6V378.1M555.5 379.0V382.5M555.5 383.4V386.9M558.6 373.2V375.9M558.6 376.6V381.2M558.6 381.7V386.4M558.6 371.6V372.6M561.5 371.0V375.2M561.5 381.7V385.2M564.4 368.7V375.6M564.4 375.9V379.4M564.4 379.9V384.1M564.4 384.4V385.6M567.3 367.4V372.9M567.3 373.3V380.6M567.3 381.1V384.3M567.3 384.9V385.3M569.8 370.3V376.1M569.8 376.5V379.3M569.8 380.1V383.8M569.8 360.3V361.3M572.9 365.0V367.9M572.9 368.1V373.0M572.9 381.3V384.9M572.9 387.9V388.9M575.6 363.0V368.9M575.6 369.5V375.8M575.6 376.3V379.6M575.6 380.3V384.6M575.6 385.0V385.3M575.6 386.1V387.1M578.7 360.9V365.0M578.7 365.8V371.2M578.7 371.5V377.5M578.7 378.0V384.1M581.4 366.4V370.7M581.4 371.2V375.3M581.4 375.7V380.8M581.4 381.3V383.3M584.3 360.3V362.9M584.3 363.1V369.2M584.3 373.9V377.7M584.3 378.4V381.3M584.3 349.0V350.0M587.4 360.3V364.8M587.4 365.0V369.5M587.4 375.8V380.9M587.4 346.8V347.8M590.0 351.7V358.3M590.0 359.1V363.3M590.0 364.2V368.8M590.0 369.1V376.7M590.0 377.6V379.2M593.1 350.3V357.9M593.1 358.3V361.0M593.1 361.7V367.9M593.1 368.2V373.3M593.1 373.8V378.2M593.1 378.2V379.2M595.9 348.5V355.1M595.9 355.4V359.8M595.9 360.5V366.2M595.9 367.0V373.8M595.9 374.7V376.8M598.8 346.4V353.0M598.8 353.4V359.3M598.8 359.9V363.4M598.8 364.3V371.6M598.8 371.8V376.2M601.7 344.3V347.1M601.7 347.6V354.1M601.7 354.5V361.4M601.7 362.0V365.4M601.7 365.8V372.7M601.7 372.9V373.6M604.5 343.4V349.4M604.5 349.8V352.8M604.5 353.3V359.7M604.5 360.1V363.8M604.5 364.3V369.0M604.5 369.8V371.8M607.5 341.7V348.7M607.5 348.9V352.2M607.5 352.8V360.0M607.5 360.8V365.3M607.5 365.7V370.1M607.5 377.9V378.9M610.1 340.6V343.9M610.1 344.8V352.6M610.1 353.1V358.6M610.1 359.2V362.7M610.1 363.3V366.2M610.1 366.5V368.9M610.1 374.9V375.9M612.9 339.0V342.9M612.9 343.2V347.8M612.9 348.2V353.4M612.9 353.8V360.2M612.9 361.1V366.6M612.9 331.8V332.8M616.0 337.0V340.2M616.0 340.6V346.0M616.0 346.5V350.8M616.0 351.5V358.1M616.0 358.7V362.6M616.0 363.2V364.7M618.8 336.3V340.9M618.8 341.5V347.4M618.8 347.9V351.4M618.8 351.7V356.0M618.8 356.5V359.9M618.8 360.6V362.1M621.5 334.3V341.7M621.5 342.4V345.1M621.5 345.5V352.3M621.5 352.6V355.3M621.5 355.8V360.1M624.5 331.7V339.6M624.5 340.3V347.9M624.5 348.4V355.2M624.5 356.0V358.9M627.2 330.8V333.5M627.2 340.7V345.5M627.2 346.4V353.9M627.2 354.2V357.5M630.5 329.3V335.3M630.5 342.8V345.4M630.5 345.8V350.4M630.5 351.1V355.6M633.0 327.7V335.1M633.0 335.6V342.4M633.0 342.9V350.2M633.0 351.0V352.7M633.0 356.5V357.5M636.0 325.6V332.0M636.0 332.6V338.9M636.0 339.4V344.8M636.0 345.3V349.6M636.0 350.0V351.7M638.9 324.4V329.3M638.9 329.9V335.2M638.9 335.7V342.9M638.9 343.7V349.9M641.7 321.3V324.7M641.7 325.3V328.6M641.7 329.1V336.8M641.7 337.3V342.4M641.7 342.8V347.2M644.6 320.1V325.3M644.6 325.9V330.7M644.6 331.0V336.5M644.6 337.1V344.1M644.6 344.7V345.4M647.6 317.4V320.8M647.6 321.1V328.0M647.6 328.7V336.1M647.6 337.0V340.5M650.3 315.6V322.1M650.3 322.4V325.3M650.3 326.1V329.1M650.3 329.4V337.3M653.1 313.7V319.7M653.1 320.0V327.5M653.1 313.4V314.4M578.1 291.3V295.8M578.1 296.5V299.3M578.1 300.2V305.7M578.1 306.0V310.7M578.1 311.3V318.5M578.1 319.1V322.4M578.1 289.6V290.6M580.8 290.8V298.8M580.8 304.5V308.4M580.8 309.2V314.1M580.8 314.4V320.9M580.8 282.6V283.6M583.8 289.7V295.3M583.8 296.0V299.4M583.8 300.2V304.1M583.8 311.3V319.1M583.8 319.6V320.4M583.8 321.5V322.5M586.6 295.5V300.0M586.6 300.3V305.5M586.6 305.8V311.0M586.6 317.5V320.8M589.5 289.4V293.8M589.5 294.3V300.0M589.5 308.0V310.9M589.5 311.2V314.6M589.5 315.3V318.5M589.5 319.3V320.0M592.4 293.8V298.5M592.4 299.2V302.6M592.4 303.4V307.2M592.4 307.7V314.2M592.4 314.6V317.4M592.4 318.2V319.8M592.4 285.7V286.7M595.2 289.4V297.2M595.2 297.8V305.5M595.2 306.0V310.9M595.2 311.6V317.6M598.0 287.7V291.4M598.0 291.9V295.6M598.0 300.6V304.6M598.0 305.2V311.8M598.0 312.6V315.1M598.0 315.4V318.5M598.0 280.1V281.1M601.1 287.6V294.0M601.1 294.5V300.1M601.1 301.0V304.7M601.1 305.6V311.8M601.1 312.4V314.9M601.1 315.7V318.4M601.1 279.5V280.5M603.9 287.0V292.6M603.9 293.0V297.8M603.9 298.5V303.6M603.9 304.3V311.7M603.9 311.9V315.1M603.9 315.8V317.0M603.9 285.2V286.2M606.9 292.0V294.8M606.9 295.3V302.8M606.9 303.3V311.1M609.6 295.1V300.3M609.6 300.8V308.6M609.6 309.3V315.5M609.6 323.1V324.1M612.5 286.3V291.2M612.5 298.6V304.0M615.2 286.0V291.4M615.2 291.8V299.8M615.2 300.6V303.8M615.2 277.5V278.5M618.2 285.2V290.8M618.2 291.5V295.3M618.2 296.1V302.4M618.2 302.8V308.5M618.2 309.2V312.5M621.0 284.4V291.4M621.0 297.4V301.2M621.0 301.4V307.4M621.0 308.1V311.4M624.0 290.4V296.9M624.0 297.8V302.0M624.0 302.8V309.0M624.0 309.7V311.4M626.8 283.4V287.0M626.8 287.6V292.7M626.8 292.9V300.5M626.8 301.1V303.7M626.8 304.3V311.2M629.8 283.3V290.6M629.8 291.1V296.0M629.8 296.4V300.9M629.8 282.0V283.0M632.4 283.0V286.9M632.4 287.5V290.5M632.4 291.1V296.0M632.4 302.6V306.1M632.4 316.4V317.4M635.5 282.9V285.5M635.5 285.8V291.3M635.5 296.3V303.1M635.5 303.7V308.6M638.2 281.2V285.2M638.2 285.5V291.2M638.2 291.6V294.8M638.2 295.4V300.1M638.2 300.9V306.4M638.2 307.3V307.6M638.2 313.5V314.5M641.0 280.8V286.1M641.0 286.6V289.9M641.0 290.5V298.1M641.0 298.7V301.4M641.0 302.0V306.5M644.1 285.4V291.2M644.1 291.5V298.4M644.1 299.2V305.0M646.9 280.8V285.2M646.9 285.6V288.6M646.9 288.9V295.5M646.9 296.1V303.1M646.9 274.7V275.7M649.6 279.7V285.8M649.6 286.0V288.9M649.6 289.5V292.0M649.6 292.7V296.5M649.6 297.2V300.1M649.6 300.4V300.8M649.6 302.9V303.9M652.6 279.0V283.2M652.6 283.9V290.9M652.6 296.2V297.9M655.4 278.7V283.1M655.4 283.7V288.0M655.4 288.8V294.2M655.4 294.9V296.0M658.5 278.1V283.9M658.5 284.4V290.6M658.5 290.8V293.7M661.3 277.4V284.4M661.3 289.5V292.1M663.9 276.8V282.6M663.9 283.4V287.1M667.0 276.8V280.0M667.0 287.2V290.1M669.7 276.2V283.4M669.7 283.9V289.3M669.7 274.1V275.1M672.7 275.9V282.0M672.7 282.4V287.5M675.4 280.4V283.0M675.4 283.2V286.9M678.3 275.4V280.7M678.3 281.3V285.6M678.3 286.3V286.7M678.3 288.9V289.9M681.3 275.1V278.0M681.3 278.8V282.8M684.4 274.3V279.6M684.4 280.0V282.7M684.4 283.5V284.9M684.4 288.0V289.0M686.9 283.0V284.1M686.9 288.1V289.1M689.8 277.3V283.3M689.8 283.9V284.8M689.8 284.5V285.5M692.9 273.2V278.7M692.9 285.4V286.4M695.6 277.5V281.4M695.6 282.2V282.7M560.2 309.3V310.4M570.5 339.1V340.2M556.7 303.1V304.2M561.7 337.4V338.5M564.7 317.6V318.7M560.4 340.5V341.6M572.3 323.9V325.0M565.1 348.8V349.9M563.0 354.6V355.7M555.0 315.3V316.4M567.7 303.8V304.9M555.9 342.6V343.7M567.3 345.1V346.2M573.7 319.8V320.9M574.9 361.1V362.2M576.0 318.5V319.6M556.4 355.0V356.1M559.2 299.5V300.6M570.9 348.7V349.8M569.8 303.4V304.5M570.7 313.8V314.9M565.9 347.1V348.2M562.7 322.5V323.6M573.3 345.4V346.5M573.3 298.9V300.0M572.1 309.4V310.5M562.1 345.0V346.1M572.3 344.2V345.3M566.1 336.3V337.4M568.3 311.4V312.5M563.2 328.2V329.3M557.4 328.2V329.3M570.2 295.6V296.7M562.5 366.8V367.9M574.9 304.7V305.8M575.0 365.7V366.8M568.9 311.3V312.4M565.3 306.3V307.4M567.1 302.6V303.7M563.6 305.9V307.0M569.9 321.9V323.0M573.7 358.7V359.8M558.4 351.3V352.4M571.2 315.8V316.9M573.2 299.6V300.7M562.0 348.1V349.2M572.7 367.8V368.9M567.3 351.2V352.3M575.9 367.0V368.1M562.2 329.0V330.1M572.0 335.2V336.3M556.8 365.0V366.1M563.5 307.1V308.2M562.3 297.1V298.2M575.1 305.8V306.9M555.0 368.8V369.9M561.8 343.0V344.1M563.1 321.1V322.2M575.3 351.4V352.5M562.4 358.7V359.8M629.4 378.0V379.1M605.7 338.6V339.7M638.2 341.6V342.7M601.7 355.7V356.8M624.4 346.8V347.9M582.1 389.1V390.2M589.3 352.6V353.7M599.3 304.5V305.6M592.9 337.0V338.1M580.1 308.5V309.6M612.1 336.3V337.4M580.7 328.4V329.5M592.3 377.2V378.3M639.9 378.9V380.0M637.9 343.1V344.2M592.2 356.8V357.9M592.2 383.0V384.1M591.9 352.5V353.6M618.8 309.0V310.1M626.7 343.1V344.2M624.4 348.8V349.9M630.1 309.9V311.0M592.0 361.2V362.3M583.3 336.2V337.3M625.3 312.5V313.6M604.4 363.0V364.1M591.0 327.8V328.9M612.1 376.7V377.8M612.4 376.6V377.7M609.5 309.9V311.0M637.8 339.3V340.4M586.0 351.0V352.1M606.8 300.2V301.3M597.6 311.6V312.7M604.0 328.9V330.0M641.3 304.2V305.3M597.2 302.4V303.5M602.9 331.7V332.8M598.9 316.9V318.0M598.3 375.1V376.2M638.4 347.4V348.5M616.1 322.2V323.3M641.7 302.0V303.1M611.4 347.4V348.5M611.6 383.6V384.7M617.4 310.5V311.6M584.3 353.4V354.5M578.1 334.6V335.7M630.0 341.9V343.0M644.6 342.1V343.2M600.2 308.0V309.1M607.6 337.8V338.9M625.7 352.6V353.7M636.2 342.8V343.9M605.6 309.5V310.6M627.7 329.0V330.1M608.6 359.5V360.6M614.1 316.6V317.7M622.4 313.5V314.6M638.8 389.7V390.8M644.0 343.3V344.4M601.2 350.9V352.0M629.0 320.2V321.3M620.4 330.6V331.7M602.7 306.1V307.2M626.3 330.4V331.5M615.0 347.9V349.0M636.0 365.8V366.9M627.4 384.0V385.1M634.3 313.3V314.4M636.0 379.0V380.1M589.8 325.2V326.3M629.0 379.7V380.8M581.4 369.4V370.5M636.3 340.4V341.5M592.5 322.4V323.5M593.2 376.7V377.8M628.5 323.3V324.4M627.6 373.6V374.7M594.9 380.7V381.8M618.8 305.8V306.9M604.1 330.6V331.7M590.3 356.4V357.5M606.0 385.4V386.5M607.6 351.2V352.3M638.3 300.6V301.7M598.3 381.4V382.5M621.5 375.4V376.5M581.5 371.2V372.3M594.6 328.4V329.5M601.1 347.4V348.5M634.5 359.7V360.8M624.2 320.6V321.7M624.6 333.9V335.0M633.6 354.9V356.0M588.8 335.3V336.4M622.2 358.3V359.4M592.3 318.6V319.7M627.3 308.2V309.3M612.5 370.2V371.3M590.9 302.2V303.3M642.7 373.8V374.9M625.5 367.1V368.2M631.9 342.8V343.9M639.1 386.2V387.3M625.0 365.9V367.0M580.6 316.1V317.2M614.5 370.5V371.6M579.4 380.4V381.5M638.7 303.7V304.8M626.1 364.0V365.1M597.2 350.9V352.0M589.2 338.4V339.5M638.3 337.6V338.7M610.5 329.5V330.6M623.5 345.4V346.5M603.2 347.8V348.9M619.5 383.8V384.9M597.5 316.9V318.0M593.4 322.7V323.8M613.3 310.8V311.9M589.4 340.6V341.7M577.5 334.8V335.9M637.8 325.1V326.2M616.9 360.8V361.9M624.4 386.7V387.8M611.8 317.8V318.9M626.8 312.7V313.8M606.2 304.9V306.0M591.4 325.2V326.3M618.1 380.0V381.1M582.0 385.8V386.9M598.6 325.8V326.9M579.1 326.9V328.0M577.1 333.1V334.2M625.8 347.9V349.0M593.2 386.7V387.8M637.3 355.5V356.6M595.3 334.4V335.5M582.0 367.1V368.2M620.1 362.1V363.2M621.9 342.5V343.6M611.0 333.1V334.2M596.5 306.9V308.0M617.4 350.9V352.0M639.3 338.8V339.9M644.2 306.6V307.7M609.9 344.8V345.9M617.0 378.6V379.7M615.2 360.3V361.4M634.8 387.9V389.0M585.1 374.2V375.3M603.7 364.3V365.4M631.8 308.5V309.6M580.6 380.3V381.4M613.2 374.1V375.2M585.7 347.5V348.6M615.2 308.9V310.0M621.0 323.3V324.4M619.3 314.0V315.1M623.9 351.5V352.6M627.2 357.9V359.0M630.6 300.3V301.4M583.4 336.2V337.3M604.8 344.2V345.3M618.3 330.4V331.5M596.7 325.6V326.7M599.3 345.1V346.2M639.1 318.3V319.4M631.2 362.2V363.3M605.9 353.7V354.8M621.9 376.3V377.4M581.0 351.3V352.4M607.1 325.2V326.3M636.5 324.7V325.8M622.2 368.8V369.9M633.8 312.7V313.8M618.2 318.7V319.8M630.9 301.2V302.3M604.9 379.2V380.3M579.4 324.9V326.0M622.2 319.2V320.3M642.7 326.8V327.9M610.3 336.7V337.8M617.3 308.9V310.0M615.3 348.9V350.0M585.5 319.8V320.9M580.1 343.5V344.6M593.3 346.6V347.7M618.3 352.9V354.0M593.1 351.6V352.7M621.3 350.2V351.3M577.9 300.4V301.5M596.7 354.2V355.3M595.6 367.4V368.5M637.2 364.8V365.9M582.7 354.1V355.2M633.8 381.3V382.4M581.3 351.6V352.7M593.4 346.3V347.4M604.4 378.9V380.0M584.1 316.1V317.2M626.0 372.5V373.6M596.3 388.9V390.0M620.3 366.3V367.4M579.8 365.1V366.2M614.5 307.4V308.5M588.0 323.7V324.8M644.5 326.9V328.0M616.0 323.1V324.2M605.6 342.4V343.5M578.2 304.7V305.8M614.6 315.8V316.9M605.0 301.9V303.0M613.2 322.9V324.0M621.0 367.5V368.6M642.2 379.4V380.5M618.8 357.6V358.7M643.5 345.0V346.1M610.2 331.4V332.5M599.2 306.6V307.7M628.7 353.9V355.0M644.1 321.0V322.1M593.8 325.2V326.3M598.5 314.2V315.3M621.4 333.9V335.0M581.3 330.4V331.5M614.6 304.9V306.0M619.6 380.8V381.9M616.9 367.3V368.4M580.7 304.5V305.6M628.7 371.0V372.1M588.6 321.1V322.2M594.0 359.3V360.4M593.6 378.6V379.7M628.8 327.8V328.9M614.8 374.6V375.7M594.1 318.2V319.3M617.4 389.7V390.8M588.4 342.7V343.8M578.2 316.8V317.9M632.3 384.5V385.6M595.1 326.1V327.2M583.7 357.2V358.3M605.0 370.9V372.0M597.7 343.8V344.9M630.6 308.0V309.1M593.7 375.0V376.1M639.0 384.5V385.6M637.2 317.5V318.6M594.7 327.9V329.0M584.3 351.5V352.6M601.2 308.3V309.4M627.5 323.5V324.6M602.4 339.7V340.8M622.3 378.0V379.1M641.1 334.9V336.0M634.1 370.2V371.3M617.8 337.3V338.4M578.7 335.7V336.8M643.9 325.2V326.3M643.3 374.1V375.2M630.6 382.5V383.6M611.8 377.5V378.6M616.6 368.7V369.8M581.8 306.9V308.0M627.0 311.2V312.3M601.9 303.8V304.9M639.5 376.0V377.1M642.2 385.8V386.9M611.3 332.9V334.0M596.3 341.7V342.8M598.9 365.0V366.1M593.9 383.4V384.5M612.9 310.8V311.9M598.2 315.9V317.0M617.5 364.6V365.7M599.6 372.1V373.2M586.2 353.2V354.3M580.5 327.1V328.2M619.6 360.5V361.6M608.0 369.7V370.8M604.8 352.4V353.5M584.9 363.3V364.4M603.0 352.3V353.4M610.1 319.9V321.0M632.6 353.9V355.0M608.5 302.4V303.5M582.4 370.8V371.9M607.3 321.8V322.9M632.8 305.0V306.1M602.6 318.6V319.7M642.2 335.2V336.3M624.5 307.8V308.9M607.8 307.2V308.3M616.0 372.8V373.9M620.4 347.4V348.5M629.0 352.7V353.8M580.6 359.0V360.1M628.4 355.9V357.0M614.4 388.1V389.2M599.1 372.7V373.8M612.6 341.5V342.6M604.2 307.3V308.4M623.6 350.8V351.9M629.6 384.9V386.0M644.4 340.6V341.7M597.2 308.0V309.1M627.1 354.4V355.5M628.3 386.6V387.7M593.8 314.5V315.6M584.6 313.3V314.4M637.7 317.3V318.4M598.4 349.8V350.9M578.4 356.8V357.9M619.3 300.7V301.8M584.6 346.4V347.5M639.5 342.3V343.4M587.9 310.2V311.3M586.9 318.3V319.4M580.1 365.4V366.5M627.2 353.0V354.1M583.2 358.4V359.5M603.4 332.2V333.3M622.1 335.3V336.4M578.9 304.8V305.9M643.2 381.7V382.8M624.7 375.9V377.0M621.5 329.1V330.2M615.7 338.0V339.1M586.7 312.7V313.8M636.8 345.2V346.3M622.8 322.6V323.7M594.6 306.5V307.6M608.6 383.3V384.4M638.3 354.9V356.0M633.8 343.3V344.4M625.8 354.3V355.4M610.7 313.8V314.9M613.8 326.8V327.9M632.4 372.5V373.6M626.7 334.3V335.4M590.0 301.4V302.5M588.3 318.3V319.4M605.8 300.1V301.2M581.5 304.6V305.7M609.8 359.5V360.6M629.4 378.2V379.3M579.0 344.6V345.7M611.3 344.5V345.6M583.6 315.6V316.7M631.1 353.2V354.3M594.6 345.5V346.6M633.1 347.3V348.4M589.9 334.7V335.8M639.1 377.9V379.0M618.6 348.7V349.8M585.4 371.5V372.6M593.3 368.9V370.0M612.1 372.9V374.0M602.0 337.9V339.0M593.1 356.1V357.2M615.5 347.4V348.5M590.4 383.5V384.6M592.7 326.4V327.5M583.0 346.4V347.5M581.5 369.3V370.4M585.5 378.4V379.5M617.4 341.3V342.4M634.9 378.0V379.1M590.5 337.1V338.2M585.7 309.1V310.2M637.6 372.0V373.1M598.2 381.0V382.1M615.2 355.8V356.9M637.6 378.5V379.6M577.3 364.0V365.1M578.7 326.0V327.1M587.1 375.8V376.9M584.9 384.1V385.2M581.5 307.8V308.9M630.0 333.1V334.2M603.4 342.2V343.3M636.9 329.3V330.4M631.2 357.2V358.3M609.0 376.2V377.3M635.5 354.5V355.6M587.4 383.4V384.5M592.4 386.1V387.2M615.0 379.0V380.1M621.3 363.2V364.3M632.4 347.5V348.6M605.9 376.5V377.6M579.4 388.2V389.3M598.6 352.6V353.7M577.4 302.6V303.7M589.5 302.3V303.4M621.8 301.8V302.9M623.9 349.5V350.6M612.7 312.4V313.5M581.3 342.5V343.6M581.8 345.5V346.6M632.3 360.9V362.0M583.2 383.0V384.1M610.2 310.3V311.4M644.7 373.5V374.6M634.2 336.5V337.6M638.8 304.9V306.0M628.5 342.0V343.1M633.2 360.0V361.1M633.0 354.2V355.3M590.1 387.9V389.0M589.9 374.0V375.1M607.7 381.2V382.3M608.8 349.8V350.9M634.7 368.8V369.9M629.9 348.0V349.1M624.2 339.6V340.7M641.0 321.7V322.8M606.8 313.4V314.5M589.3 304.2V305.3M604.3 309.4V310.5M608.7 304.5V305.6M637.8 302.7V303.8M593.2 305.8V306.9M618.7 340.6V341.7M633.4 304.6V305.7M602.6 340.9V342.0M612.1 337.7V338.8M641.2 370.9V372.0M634.2 306.4V307.5M589.6 360.5V361.6M584.1 364.8V365.9M596.4 367.0V368.1M598.2 343.6V344.7M608.9 303.6V304.7M605.5 360.2V361.3M585.3 389.1V390.2M586.6 363.5V364.6M623.2 337.6V338.7M600.2 310.8V311.9M589.4 353.4V354.5M605.6 322.1V323.2M627.4 302.2V303.3M603.1 304.9V306.0M587.4 302.6V303.7M612.9 357.6V358.7M601.8 365.9V367.0M634.5 345.8V346.9M598.7 371.3V372.4M583.3 386.2V387.3M630.2 352.5V353.6M596.0 303.8V304.9M634.2 359.5V360.6M619.9 338.2V339.3M628.8 355.0V356.1M617.7 350.9V352.0M626.3 329.5V330.6M579.2 373.1V374.2M580.7 323.3V324.4M639.5 381.0V382.1M603.8 341.6V342.7M588.0 310.6V311.7M632.2 369.9V371.0M635.5 366.6V367.7M596.3 315.4V316.5M609.0 370.3V371.4M607.7 308.6V309.7M641.2 378.4V379.5M620.1 377.3V378.4M589.4 320.3V321.4M608.7 365.0V366.1M592.1 342.5V343.6M614.9 378.8V379.9M587.3 325.2V326.3M604.4 310.1V311.2M629.6 315.8V316.9M619.0 341.6V342.7M594.5 318.4V319.5M582.8 385.7V386.8M628.7 323.7V324.8M638.9 327.6V328.7M598.7 353.7V354.8M579.3 357.8V358.9M602.5 380.6V381.7M579.0 373.9V375.0M598.6 347.9V349.0M582.9 303.7V304.8M642.4 376.5V377.6M613.5 300.2V301.3M602.3 316.9V318.0M642.8 382.6V383.7M594.1 380.9V382.0M623.8 318.4V319.5M608.9 378.4V379.5M582.5 339.0V340.1M630.3 339.7V340.8M599.9 329.7V330.8M644.9 313.9V315.0M621.4 369.2V370.3M609.5 312.8V313.9M603.1 307.3V308.4M578.4 338.6V339.7M637.8 310.1V311.2M630.5 388.1V389.2M611.1 373.5V374.6M617.7 310.0V311.1M609.7 378.5V379.6M610.4 330.1V331.2M589.1 357.5V358.6M639.2 381.6V382.7M610.1 305.8V306.9M602.1 365.2V366.3M619.7 305.9V307.0M608.6 376.7V377.8M590.6 381.3V382.4M631.1 366.5V367.6M638.7 340.5V341.6M588.9 373.5V374.6M604.0 306.3V307.4M631.8 309.5V310.6M641.2 388.3V389.4M595.4 327.3V328.4M641.4 348.1V349.2M627.3 317.3V318.4M619.1 324.0V325.1M620.3 327.3V328.4M595.9 336.1V337.2M606.5 340.4V341.5M608.1 374.6V375.7M579.2 361.4V362.5M600.0 316.5V317.6M584.4 319.7V320.8M632.0 377.1V378.2M623.7 382.5V383.6M623.7 346.5V347.6M634.4 370.8V371.9M578.0 379.4V380.5M603.8 353.4V354.5M623.0 361.1V362.2M611.7 322.9V324.0M580.8 346.3V347.4M607.0 350.8V351.9M605.1 355.8V356.9M631.5 325.7V326.8M592.9 328.7V329.8M608.5 356.6V357.7M636.3 303.8V304.9M627.3 358.8V359.9M637.1 389.2V390.3M586.5 389.7V390.8M608.0 324.3V325.4M603.1 322.8V323.9M627.7 319.9V321.0M583.9 303.4V304.5M635.7 381.8V382.9M614.8 302.3V303.4M600.0 308.9V310.0M630.3 312.2V313.3M596.9 369.6V370.7M590.6 391.2V392.3M604.8 413.4V414.5M590.4 403.2V404.3M580.1 395.8V396.9M579.4 404.9V406.0M606.9 405.0V406.1M599.1 385.6V386.7M599.3 396.2V397.3M589.6 406.3V407.4M584.2 411.2V412.3M582.8 405.3V406.4M597.4 399.1V400.2M590.5 387.3V388.4M593.2 396.6V397.7M582.9 385.6V386.7M590.1 402.6V403.7M588.2 410.9V412.0M595.4 406.8V407.9M598.3 397.3V398.4M601.5 394.1V395.2M584.2 394.8V395.9M599.1 388.6V389.7M581.2 407.4V408.5M592.6 392.9V394.0M605.7 411.7V412.8M581.3 398.5V399.6M602.7 409.2V410.3M580.5 395.0V396.1M593.4 386.1V387.2M606.5 393.0V394.1M648.7 302.6V303.7M648.2 317.8V318.9M659.9 311.9V313.0M645.8 329.1V330.2M645.8 314.1V315.2M661.8 312.7V313.8M650.6 321.1V322.2M660.5 294.9V296.0M645.4 306.2V307.3M664.2 300.8V301.9M649.3 322.4V323.5M656.1 293.9V295.0M642.0 323.9V325.0M644.2 295.6V296.7M644.5 294.8V295.9M658.7 295.7V296.8M662.8 316.3V317.4M660.8 303.4V304.5M662.3 293.3V294.4M653.8 293.5V294.6M664.5 320.6V321.7M654.4 322.8V323.9M655.7 315.3V316.4M648.0 298.4V299.5M654.8 303.5V304.6" stroke="#4d79bc" stroke-width="1.4" fill="none"/>
<path d="M416.1 260.8h0M416.1 263.2h0M416.1 265.7h0M418.4 264.0h0M418.4 261.8h0M418.4 265.5h0M418.4 266.8h0M420.5 262.6h0M420.5 263.4h0M420.5 262.5h0M422.5 263.6h0M422.5 262.6h0M422.5 261.4h0M422.5 265.9h0M425.0 265.0h0M425.0 260.8h0M425.0 266.9h0M427.6 265.5h0M427.6 265.2h0M427.6 264.4h0M429.5 264.1h0M429.5 261.5h0M429.5 263.6h0M432.4 260.9h0M432.4 260.3h0M432.4 263.0h0M434.2 262.2h0M434.2 261.2h0M434.2 260.7h0M434.2 268.2h0M436.4 261.0h0M436.4 264.7h0M436.4 260.8h0M438.7 261.6h0M438.7 262.1h0M438.7 261.3h0M438.7 263.9h0M440.5 265.2h0M440.5 262.1h0M440.5 264.5h0M443.1 265.6h0M443.1 261.2h0M443.1 265.5h0M445.3 261.4h0M445.3 263.4h0M445.3 264.8h0M447.9 264.3h0M447.9 260.6h0M447.9 261.0h0M450.0 262.0h0M450.0 264.6h0M450.0 264.7h0M452.9 262.0h0M452.9 260.7h0M455.5 265.1h0M455.5 261.3h0M458.2 263.0h0M458.2 262.7h0M460.5 263.6h0M460.5 263.5h0M460.5 266.6h0M463.1 262.1h0M463.1 261.8h0M463.1 261.8h0M463.1 265.9h0M464.8 262.6h0M464.8 264.6h0M464.8 263.7h0M464.8 264.0h0M467.1 264.9h0M467.1 265.1h0M467.1 264.2h0M467.1 263.7h0M470.0 262.3h0M470.0 261.4h0M470.0 260.6h0M472.4 261.0h0M472.4 265.0h0M472.4 262.5h0M472.4 267.5h0M474.4 264.0h0M474.4 260.5h0M474.4 261.4h0M476.8 261.7h0M476.8 263.6h0M476.8 264.7h0M479.4 263.2h0M479.4 266.0h0M481.6 261.4h0M481.6 263.4h0M481.6 264.4h0M483.3 264.7h0M483.3 261.2h0M483.3 261.8h0M483.3 266.1h0M485.4 261.4h0M485.4 265.8h0M485.4 266.0h0M485.4 264.4h0M488.1 262.5h0M488.1 261.3h0M488.1 265.2h0M490.8 265.5h0M490.8 265.0h0M490.8 263.5h0M490.8 265.0h0M492.8 262.5h0M492.8 264.8h0M492.8 264.8h0M494.8 263.9h0M494.8 264.2h0M494.8 265.3h0M494.8 264.0h0M497.4 260.5h0M497.4 262.2h0M497.4 266.7h0M499.4 264.2h0M499.4 265.5h0M499.4 266.2h0M501.4 265.5h0M501.4 261.6h0M501.4 261.4h0M501.4 267.2h0M503.2 260.7h0M503.2 261.0h0M503.2 265.9h0M505.7 263.7h0M505.7 261.2h0M507.7 265.8h0M507.7 266.0h0M507.7 264.6h0M507.7 265.5h0M509.8 265.3h0M509.8 264.4h0M509.8 263.6h0M509.8 265.8h0M511.7 263.7h0M511.7 261.6h0M513.7 263.6h0M513.7 262.0h0M516.3 263.9h0M516.3 261.3h0M516.3 265.6h0M518.9 262.0h0M518.9 264.1h0M518.9 266.1h0M521.1 263.4h0M521.1 261.8h0M521.1 264.1h0M521.1 267.4h0M523.5 264.5h0M523.5 264.8h0M523.5 262.7h0M525.8 264.0h0M525.8 265.7h0M525.8 262.8h0M525.8 264.8h0M528.3 261.0h0M528.3 262.6h0M528.3 262.4h0M528.3 266.2h0M530.5 262.2h0M530.5 265.6h0M530.5 265.4h0M532.9 265.8h0M532.9 262.5h0M532.9 262.8h0M532.9 265.6h0M534.8 264.3h0M534.8 261.8h0M534.8 264.7h0M534.8 266.4h0M537.0 263.7h0M537.0 260.8h0M537.0 265.2h0M539.2 265.4h0M539.2 263.0h0M539.2 262.3h0M539.2 263.9h0M541.7 262.4h0M541.7 261.4h0M541.7 260.7h0M541.7 264.3h0M543.7 262.7h0M543.7 266.1h0M543.7 266.0h0M543.7 266.7h0M545.6 262.3h0M545.6 264.2h0M545.6 265.1h0M547.5 264.0h0M547.5 262.9h0M547.5 267.4h0M550.0 263.5h0M550.0 261.6h0M550.0 261.2h0M550.0 266.6h0M551.9 263.6h0M551.9 261.1h0M551.9 262.1h0M554.1 264.0h0M554.1 266.0h0M554.1 262.5h0M556.5 261.8h0M556.5 265.5h0M556.5 263.2h0M559.1 264.2h0M559.1 265.4h0M559.1 264.9h0M559.1 266.0h0M428.0 255.5h0M428.0 262.0h0M561.7 263.5h0M561.7 262.0h0M561.7 276.9h0M563.9 263.9h0M563.9 273.9h0M563.9 273.7h0M566.8 266.7h0M566.8 283.5h0M566.8 266.9h0M568.8 266.8h0M568.8 261.2h0M568.8 275.1h0M571.3 263.6h0M571.3 287.6h0M571.3 274.8h0M574.1 266.4h0M574.1 287.0h0M574.1 285.9h0M576.5 252.7h0M576.5 262.0h0M576.5 270.0h0M578.8 264.5h0M578.8 413.7h0M578.8 388.8h0M581.6 282.6h0M581.6 329.0h0M584.8 287.2h0M584.8 335.9h0M587.8 287.5h0M587.8 287.1h0M587.8 294.8h0M590.7 273.6h0M590.7 382.5h0M590.7 331.1h0M593.8 272.2h0M593.8 401.1h0M593.8 286.4h0M596.1 267.4h0M596.1 403.6h0M598.9 283.4h0M598.9 400.6h0M598.9 364.2h0M602.0 269.3h0M602.0 350.6h0M602.0 286.6h0M605.3 279.5h0M605.3 287.6h0M607.8 279.5h0M607.8 309.8h0M610.6 278.8h0M610.6 405.5h0M610.6 339.6h0M612.7 283.8h0M612.7 400.8h0M612.7 309.1h0M615.3 270.5h0M615.3 318.7h0M617.8 290.1h0M617.8 342.9h0M617.8 303.0h0M620.3 294.0h0M620.3 327.2h0M620.3 413.2h0M623.3 272.5h0M623.3 382.5h0M623.3 296.3h0M625.9 294.2h0M625.9 382.1h0M625.9 392.6h0M629.1 274.4h0M629.1 332.4h0M629.1 365.9h0M631.2 288.8h0M631.2 299.0h0M634.6 279.1h0M634.6 395.7h0M634.6 293.6h0M637.2 281.3h0M637.2 357.3h0M637.2 323.3h0M640.1 274.9h0M640.1 288.7h0M640.1 290.4h0M643.3 286.5h0M643.3 332.3h0M649.8 328.4h0M649.8 347.6h0M649.8 401.9h0M653.1 318.2h0M653.1 321.5h0M653.1 342.4h0M653.1 359.7h0M656.7 335.9h0M656.7 334.1h0M656.7 334.9h0M660.0 323.2h0M660.0 339.8h0M660.0 385.0h0M662.3 326.5h0M662.3 323.6h0M662.3 370.4h0M665.6 341.9h0M665.6 323.7h0M665.6 394.7h0M668.7 332.6h0M668.7 337.0h0M668.7 372.3h0M672.0 345.9h0M672.0 386.9h0M674.8 330.3h0M674.8 340.7h0M674.8 388.8h0M678.6 328.2h0M678.6 330.4h0M678.6 371.2h0M681.3 334.7h0M681.3 344.5h0M681.3 349.3h0M684.4 334.9h0M684.4 367.8h0M687.8 349.5h0M687.8 394.3h0M690.5 347.9h0M690.5 356.1h0M693.8 347.8h0M693.8 359.3h0M693.8 387.8h0M682.0 282.7h0M682.0 285.0h0M682.0 330.0h0M688.0 283.0h0M688.0 290.0h0M688.0 320.0h0" stroke="#f08430" stroke-width="2.25" stroke-linecap="round" fill="none"/>
<line x1="577.3" y1="244.2" x2="577.3" y2="424.1" stroke="#555" stroke-width="1.3"/>
<line x1="647.4" y1="244.2" x2="647.4" y2="424.1" stroke="#3a3a3a" stroke-width="1.3" stroke-dasharray="2,1.7"/>
<text x="362.7" y="239.7" font-size="18.5" fill="#111" stroke="#111" stroke-width="0.35" text-anchor="start" textLength="14.3" lengthAdjust="spacingAndGlyphs" >d)</text>
<text x="551.6" y="238.1" font-size="9.6" fill="#222" stroke="#222" stroke-width="0.3" text-anchor="middle" textLength="23.5" lengthAdjust="spacingAndGlyphs" >Al<tspan font-size="6.5" dy="1.8">2</tspan><tspan dy="-1.8" font-style="italic">O</tspan><tspan font-size="6.5" dy="1.8">3</tspan></text>
<text transform="translate(377.6,333.9) rotate(-90)" font-size="9.0" fill="#3434a6" stroke="#3434a6" stroke-width="0.28" text-anchor="middle" textLength="72.5" lengthAdjust="spacingAndGlyphs" >Average Power (W)</text>
<text transform="translate(723.4,336.5) rotate(-90)" font-size="9.6" fill="#f38a3c" stroke="#f38a3c" stroke-width="0.28" text-anchor="middle" textLength="92.5" lengthAdjust="spacingAndGlyphs" >Alpha coefficient value</text>
<text x="551.3" y="448.3" font-size="10" fill="#222" stroke="#222" stroke-width="0.08" text-anchor="middle" textLength="90" lengthAdjust="spacingAndGlyphs" >Peak to peak voltage (V)</text>
<text transform="translate(419.7,355.4) rotate(-90)" font-size="7.5" fill="#222" stroke="#222" stroke-width="0.08" text-anchor="middle" textLength="29" lengthAdjust="spacingAndGlyphs" >No Plasma</text>
<text transform="translate(586.5,408.9) rotate(-90)" font-size="7.5" fill="#222" stroke="#222" stroke-width="0.08" text-anchor="middle" textLength="23.5" lengthAdjust="spacingAndGlyphs" >Unstable</text>
<text transform="translate(594.8,407.4) rotate(-90)" font-size="7.5" fill="#222" stroke="#222" stroke-width="0.08" text-anchor="middle" textLength="21.5" lengthAdjust="spacingAndGlyphs" >streamer</text>
<text transform="translate(603.6,408.3) rotate(-90)" font-size="7.5" fill="#222" stroke="#222" stroke-width="0.08" text-anchor="middle" textLength="28.5" lengthAdjust="spacingAndGlyphs" >(Plasma on)</text>
<text transform="translate(658.3,400.0) rotate(-90)" font-size="7.5" fill="#222" stroke="#222" stroke-width="0.08" text-anchor="middle" textLength="40.5" lengthAdjust="spacingAndGlyphs" >Stable streamer</text>
<line x1="34.1" y1="479.6" x2="322.4" y2="479.6" stroke="#d4d4d4" stroke-width="0.9"/>
<path d="M34.1 465.1H322.4M34.1 643.0H322.4" stroke="#444" stroke-width="1" fill="none"/>
<path d="M48.3 465.1v1.4M48.3 643.0v-1.4M63.5 465.1v1.4M63.5 643.0v-1.4M78.8 465.1v1.4M78.8 643.0v-1.4M94.0 465.1v1.4M94.0 643.0v-1.4M109.2 465.1v2.2M109.2 643.0v-2.2M124.4 465.1v1.4M124.4 643.0v-1.4M139.6 465.1v1.4M139.6 643.0v-1.4M154.9 465.1v1.4M154.9 643.0v-1.4M170.1 465.1v1.4M170.1 643.0v-1.4M185.3 465.1v2.2M185.3 643.0v-2.2M200.5 465.1v1.4M200.5 643.0v-1.4M215.7 465.1v1.4M215.7 643.0v-1.4M231.0 465.1v1.4M231.0 643.0v-1.4M246.2 465.1v1.4M246.2 643.0v-1.4M261.4 465.1v2.2M261.4 643.0v-2.2M276.6 465.1v1.4M276.6 643.0v-1.4M291.8 465.1v1.4M291.8 643.0v-1.4M307.1 465.1v1.4M307.1 643.0v-1.4" stroke="#444" stroke-width="0.8"/>
<line x1="34.1" y1="465.1" x2="34.1" y2="643.0" stroke="#6f6fd2" stroke-width="1.1"/>
<path d="M34.1 631.1h1.3M34.1 624.1h1.3M34.1 619.2h1.3M34.1 615.3h1.3M34.1 612.2h1.3M34.1 609.5h1.3M34.1 607.2h1.3M34.1 605.2h1.3M34.1 603.4h2.2M34.1 591.4h1.3M34.1 584.4h1.3M34.1 579.4h1.3M34.1 575.6h1.3M34.1 572.4h1.3M34.1 569.8h1.3M34.1 567.5h1.3M34.1 565.4h1.3M34.1 563.6h2.2M34.1 551.6h1.3M34.1 544.6h1.3M34.1 539.7h1.3M34.1 535.8h1.3M34.1 532.7h1.3M34.1 530.0h1.3M34.1 527.7h1.3M34.1 525.7h1.3M34.1 523.9h2.2M34.1 511.9h1.3M34.1 504.9h1.3M34.1 499.9h1.3M34.1 496.1h1.3M34.1 492.9h1.3M34.1 490.3h1.3M34.1 488.0h1.3M34.1 485.9h1.3M34.1 484.1h2.2M34.1 472.1h1.3M34.1 465.1h1.3" stroke="#6f6fd2" stroke-width="0.7"/>
<text x="32.6" y="487.3" font-size="9.3" fill="#3434a6" stroke="#3434a6" stroke-width="0.28" text-anchor="end">10</text>
<text x="32.6" y="527.0" font-size="9.3" fill="#3434a6" stroke="#3434a6" stroke-width="0.28" text-anchor="end">1</text>
<text x="32.6" y="566.8" font-size="9.3" fill="#3434a6" stroke="#3434a6" stroke-width="0.28" text-anchor="end">0.100</text>
<text x="32.6" y="606.5" font-size="9.3" fill="#3434a6" stroke="#3434a6" stroke-width="0.28" text-anchor="end">0.010</text>
<text x="32.6" y="646.3" font-size="9.3" fill="#3434a6" stroke="#3434a6" stroke-width="0.28" text-anchor="end">0.001</text>
<line x1="322.4" y1="465.1" x2="322.4" y2="643.0" stroke="#f7a66a" stroke-width="1.2"/>
<path d="M322.4 643.0h-1.3M322.4 635.5h-1.3M322.4 628.1h-2.2M322.4 620.7h-1.3M322.4 613.2h-1.3M322.4 605.8h-1.3M322.4 598.4h-2.2M322.4 591.0h-1.3M322.4 583.6h-1.3M322.4 576.1h-1.3M322.4 568.7h-2.2M322.4 561.3h-1.3M322.4 553.9h-1.3M322.4 546.4h-1.3M322.4 539.0h-2.2M322.4 531.6h-1.3M322.4 524.1h-1.3M322.4 516.7h-1.3M322.4 509.3h-2.2M322.4 501.9h-1.3M322.4 494.5h-1.3M322.4 487.0h-1.3M322.4 479.6h-2.2M322.4 472.2h-1.3" stroke="#f7a66a" stroke-width="0.7"/>
<text x="324.0" y="631.3" font-size="9.3" fill="#f38a3c" stroke="#f38a3c" stroke-width="0.28">0.0</text>
<text x="324.0" y="601.6" font-size="9.3" fill="#f38a3c" stroke="#f38a3c" stroke-width="0.28">0.2</text>
<text x="324.0" y="571.9" font-size="9.3" fill="#f38a3c" stroke="#f38a3c" stroke-width="0.28">0.4</text>
<text x="324.0" y="542.2" font-size="9.3" fill="#f38a3c" stroke="#f38a3c" stroke-width="0.28">0.6</text>
<text x="324.0" y="512.5" font-size="9.3" fill="#f38a3c" stroke="#f38a3c" stroke-width="0.28">0.8</text>
<text x="324.0" y="482.8" font-size="9.3" fill="#f38a3c" stroke="#f38a3c" stroke-width="0.28">1.0</text>
<text x="33.1" y="652.8" font-size="9.3" fill="#222" stroke="#222" stroke-width="0.08" text-anchor="middle">0</text>
<text x="109.2" y="652.8" font-size="9.3" fill="#222" stroke="#222" stroke-width="0.08" text-anchor="middle">5000</text>
<text x="185.3" y="652.8" font-size="9.3" fill="#222" stroke="#222" stroke-width="0.08" text-anchor="middle">10 000</text>
<text x="261.4" y="652.8" font-size="9.3" fill="#222" stroke="#222" stroke-width="0.08" text-anchor="middle">15 000</text>
<path d="M47.3 481.1V484.2M49.3 480.8V489.1M51.7 482.1V483.7M55.0 483.0V489.7M57.9 481.0V482.9M60.8 481.4V484.6M63.6 481.9V483.1M65.9 480.1V484.2M68.8 480.7V487.6M71.6 482.6V485.9M74.3 483.5V484.9M76.8 484.1V484.9M79.9 481.5V485.3M82.2 481.2V486.3M85.2 480.8V482.7M87.5 483.2V484.7M89.9 481.3V489.0M92.7 483.3V485.3M95.0 482.5V485.8M97.9 482.4V484.7M100.5 480.3V487.8M102.9 480.9V488.8M105.9 481.2V483.9M108.4 482.6V484.2M111.7 482.2V484.7M114.0 480.3V488.7M115.7 480.4V481.8M119.0 481.3V484.2M121.8 480.5V486.7M124.6 484.3V488.8M126.9 480.8V480.9M129.2 481.9V487.6M131.9 480.9V483.9M134.7 481.9V484.5M137.2 482.6V485.7M139.9 481.4V484.7M142.0 481.2V484.4M144.8 480.7V484.1M147.6 481.2V482.4M150.7 483.3V488.5M159.7 480.9V482.7M162.5 480.8V485.6M164.9 480.2V481.6M167.5 483.4V485.1M169.7 481.4V484.9M172.8 480.5V482.0M174.9 482.3V485.0M44.5 468.7V488.8M49.5 481.0V491.5M177.8 481.8V482.1M180.3 481.6V481.7M183.4 481.2V484.0M186.0 481.2V487.6M188.4 481.0V482.9M191.3 481.2V490.8M193.6 481.0V481.1M196.5 481.0V485.0M199.0 481.6V482.0M201.4 481.1V487.2M204.3 481.0V483.4M183.0 481.0V497.0M188.0 482.0V510.0M203.5 481.0V545.0M207.9 480.4V483.3M214.0 480.2V481.6M220.2 480.0V485.2M229.0 482.1V485.1M232.2 481.0V487.1M234.9 483.7V487.3M238.1 483.2V484.9M252.8 484.6V488.8M255.8 480.1V480.2M262.0 480.2V483.3M242.5 482.0V540.3M269.5 480.5V482.5M279.5 480.5V482.5M284.5 480.5V482.5M305.5 480.5V482.5M298.7 573.5V619.0M276.6 586.0V604.0M276.6 604V643M298.7 619V643M304.8 600.0V611.7M310.6 604.0V622.7M316.1 574.9V606.7M316.1 606V643" stroke="#cfcfcf" stroke-width="0.9" fill="none"/>
<path d="M66.0 638.9V642.1M68.9 636.8V639.5M68.9 640.1V642.2M74.0 641.3V642.4M74.0 634.1V635.1M76.6 634.4V637.8M76.6 638.4V641.9M79.6 632.0V636.1M79.6 636.3V639.0M79.6 639.9V642.4M82.1 631.1V636.8M84.7 629.7V636.3M84.7 637.2V641.3M84.7 627.1V628.1M87.7 632.6V636.6M87.7 637.2V639.6M87.7 640.3V641.3M90.3 632.8V636.9M90.3 638.4V639.4M93.0 625.7V631.3M93.0 631.8V635.1M95.6 622.8V628.4M95.6 629.0V632.4M98.5 620.9V625.3M98.5 625.9V629.1M98.5 620.6V621.6M101.2 619.3V623.4M101.2 623.6V627.4M103.9 618.5V621.5M103.9 622.2V625.9M106.6 617.7V620.9M109.3 616.0V619.1M109.3 619.8V621.9M112.0 614.0V617.0M112.0 617.3V620.8M114.5 613.4V616.0M114.5 616.4V618.4M114.5 618.9V620.1M117.1 613.3V615.9M117.1 616.7V619.3M117.1 620.6V621.6M120.0 613.5V616.1M120.0 616.7V619.3M122.9 615.3V617.2M122.9 617.9V618.5M122.9 610.6V611.6M128.0 611.6V613.6M128.0 613.8V616.4M130.9 612.6V615.2M130.9 615.5V616.0M133.6 609.6V611.6M133.6 612.0V614.8M133.6 615.2V615.6M136.2 611.3V613.9M138.9 613.6V614.6M141.7 607.2V609.3M141.7 610.1V611.9M144.4 605.4V608.6M144.4 609.3V611.1M147.1 604.6V607.1M147.1 607.9V611.4M149.6 604.6V606.5M149.6 606.7V608.4M149.6 608.7V609.9M152.3 603.5V606.1M152.3 607.0V608.9M152.3 610.0V611.0M155.3 602.9V605.0M155.3 605.4V608.3M155.3 602.4V603.4M157.7 602.4V604.1M157.7 604.4V606.2M157.7 606.5V607.7M160.3 603.8V605.3M163.3 599.9V602.3M163.3 602.8V605.7M163.3 606.8V607.8M166.0 599.6V602.2M166.0 602.8V605.4M166.0 598.2V599.2M168.8 598.8V600.5M168.8 601.3V604.1M168.8 597.6V598.6M171.2 597.9V599.9M171.2 600.3V602.4M171.2 602.7V603.8M171.2 604.2V605.2M174.1 597.2V599.2M174.1 599.6V602.5M174.1 597.3V598.3M176.6 596.4V598.4M176.6 599.1V601.0M179.2 595.4V598.1M179.2 598.7V601.8M179.2 596.0V597.0M182.1 596.3V597.8M182.1 598.3V599.5M184.7 595.1V597.6M184.7 598.0V599.7M187.6 594.1V596.6M187.6 597.2V599.4M190.1 594.0V596.3M190.1 596.7V598.8M190.1 599.6V600.3M190.1 593.1V594.1M192.9 593.1V596.0M192.9 596.3V598.5M195.5 593.4V596.6M195.5 597.4V599.1M198.5 592.9V595.2M198.5 595.6V597.7M198.5 598.0V598.9M198.5 599.6V600.6M200.8 594.7V597.6M200.8 590.1V591.1M203.7 592.0V594.0M203.7 594.3V597.5M206.2 590.6V593.9M209.1 589.6V592.9M209.1 593.8V596.2M209.1 596.8V597.4M209.1 589.4V590.4M211.7 590.0V592.4M211.7 593.3V596.0M214.4 589.5V591.5M214.4 595.4V595.9M217.2 588.8V590.8M217.2 591.4V593.6M217.2 594.0V595.2M220.0 592.6V595.6M220.0 596.3V597.3M222.6 586.7V589.0M222.6 589.6V593.2M225.2 586.8V590.1M225.2 591.0V593.1M228.0 585.4V589.9M228.0 590.8V593.3M228.0 585.0V586.0M230.9 585.8V588.8M230.9 589.5V592.8M233.3 588.3V591.9M233.3 594.2V595.2M236.3 584.3V587.4M236.3 588.3V591.1M238.7 582.5V586.3M238.7 586.6V589.5M238.7 590.2V590.6M241.6 583.6V587.5M241.6 588.3V590.6M244.0 582.1V584.7M244.0 585.3V588.0M244.0 588.7V590.0M247.1 582.5V585.3M247.1 585.5V588.6M247.1 589.1V591.1M249.6 581.8V585.5M249.6 591.8V592.8M252.2 581.2V584.6M252.2 585.4V588.9M252.2 581.4V582.4M255.0 580.8V583.9M255.0 584.2V587.4M255.0 587.9V589.4M257.5 581.0V583.5M257.5 584.0V586.5M257.5 587.0V589.7M257.5 590.3V591.3M260.4 580.3V585.2M260.4 585.7V588.4M263.1 581.3V585.1M263.1 585.3V588.9M266.0 585.2V589.2M268.4 580.0V583.4M268.4 584.1V586.7M268.4 587.2V587.8M271.1 579.1V584.6M271.1 578.5V579.5M273.8 580.1V584.1M273.8 584.7V587.6M273.8 588.7V589.7M276.5 579.4V584.4M276.5 585.0V587.8M276.5 578.7V579.7M279.1 579.6V583.2M279.1 583.9V586.4M279.1 586.6V587.5M279.1 578.3V579.3M282.2 584.1V587.5M284.5 578.6V582.7M284.5 583.6V586.9M287.3 578.4V581.1M287.3 581.4V586.2M290.2 577.9V582.5M290.2 583.1V586.4M290.2 577.6V578.6M292.8 577.2V582.1M292.8 583.0V585.6M292.8 585.9V586.3M292.8 587.3V588.3M72.8 640.0V641.1M72.8 641.7V642.4M75.8 638.3V640.6M75.8 640.8V642.4M78.3 637.6V641.1M78.3 641.4V642.4M81.2 636.7V639.7M81.2 636.3V637.3M84.0 636.5V639.8M84.0 640.6V642.4M86.6 636.1V639.8M86.6 640.1V642.4M89.3 634.7V638.1M89.3 638.4V641.0M89.3 641.4V642.4M92.1 633.3V636.9M92.1 637.1V641.2M94.4 632.6V636.6M94.4 637.5V641.5M100.0 628.4V633.6M100.0 634.1V637.3M100.0 638.7V639.7M102.7 627.8V630.6M102.7 631.3V635.5M102.7 625.1V626.1M105.4 626.0V628.8M105.4 629.1V633.1M105.4 633.5V634.3M108.0 628.5V631.3M108.0 622.8V623.8M111.0 622.2V626.4M111.0 626.6V630.1M113.5 622.8V625.5M113.5 626.1V629.5M113.5 620.2V621.2M116.3 622.2V624.4M116.3 624.9V627.2M116.3 628.1V629.2M118.9 621.5V623.8M118.9 624.5V627.4M121.5 621.1V624.0M121.5 624.5V627.2M124.2 619.4V622.9M124.2 623.5V626.0M126.8 620.1V623.3M126.8 628.2V629.2M129.6 618.4V620.7M129.6 620.9V623.5M129.6 624.0V625.4M129.6 627.4V628.4M132.5 618.1V621.0M132.5 621.2V624.2M135.2 618.3V622.1M135.2 622.6V624.9M137.8 616.7V619.2M137.8 619.9V622.3M137.8 615.8V616.8M140.3 615.9V618.2M140.3 618.8V622.7M143.0 615.3V617.2M143.0 617.9V620.6M143.0 614.8V615.8M146.0 614.7V618.2M146.0 618.7V621.0M146.0 622.1V623.1M148.5 615.0V617.4M148.5 617.7V620.4M151.4 613.1V616.1M151.4 616.4V619.0M151.4 619.2V619.9M151.4 613.7V614.7M153.9 612.5V616.2M153.9 616.7V618.9M153.9 619.7V620.7M156.8 612.2V614.3M156.8 614.7V617.3M156.8 617.8V618.9M159.4 611.6V614.1M159.4 610.8V611.8M161.9 609.8V613.9M161.9 614.2V617.0M161.9 608.8V609.8M164.7 609.8V613.1M164.7 613.7V615.8M164.7 615.9V616.9M170.3 607.6V609.7M170.3 610.6V613.1M172.9 606.6V608.6M172.9 609.2V611.5M172.9 606.0V607.0M175.5 606.6V608.9M175.5 609.4V611.0M178.2 605.3V607.3M178.2 608.2V610.5M181.1 605.4V607.4M181.1 607.6V609.7M181.1 610.2V611.1M183.8 604.8V608.0M183.8 608.6V611.3M183.8 604.4V605.4M186.4 604.5V607.6M186.4 608.1V610.6M189.0 602.9V606.0M189.0 606.2V608.7M189.0 609.0V609.3M191.7 603.7V606.3M194.3 602.0V605.3M194.3 606.1V608.9M197.1 602.2V605.5M197.1 605.9V608.9M197.1 601.2V602.2M199.8 600.9V603.4M199.8 603.8V606.3M199.8 609.6V610.6M202.4 600.7V604.6M202.4 604.9V607.5M205.4 604.9V607.0M205.4 608.2V609.2M208.0 600.3V604.3M208.0 605.0V607.3M210.5 600.0V602.8M210.5 603.5V606.3M213.4 603.3V606.1M216.2 597.9V601.8M216.2 602.7V606.0M219.0 598.7V601.7M219.0 602.2V605.9M221.7 597.4V601.4M221.7 601.6V605.3M221.7 597.3V598.3M224.1 596.6V599.8M224.1 600.4V605.4M224.1 594.5V595.5M226.7 600.8V603.9M229.4 595.9V598.7M229.4 598.9V602.4M229.4 603.0V603.9M229.4 605.4V606.4M232.1 594.9V599.9M232.1 600.6V603.2M235.0 594.5V598.1M235.0 602.4V603.0M237.5 593.8V598.6M237.5 599.3V604.1M237.5 591.9V592.9M240.4 593.0V596.7M240.4 597.1V601.4M240.4 602.2V603.2M243.1 596.7V601.4M243.1 601.9V602.9M243.1 592.2V593.2M245.7 593.2V598.7M248.7 597.1V602.6M248.7 604.3V605.3M251.3 592.0V595.6M251.3 595.9V600.0M254.1 591.8V594.6M254.1 595.3V600.4M254.1 601.0V601.8M254.1 590.0V591.0M256.8 593.0V596.2M256.8 596.9V600.3M259.1 591.9V595.9M259.1 596.3V599.4M262.1 591.7V595.5M262.1 596.3V600.7M264.6 591.4V593.7M264.6 594.2V597.1M264.6 597.3V599.2M267.6 591.6V595.9M267.6 596.5V598.9M270.2 590.4V593.8M270.2 594.5V597.9M270.2 598.4V599.5M272.9 590.4V592.9M272.9 593.6V598.1M275.5 590.4V593.7M275.5 597.6V598.5M278.0 589.7V593.2M278.0 594.0V598.6M278.0 598.8V599.8M281.0 590.4V592.6M281.0 597.2V597.7M281.0 589.0V590.0M283.6 590.5V593.9M283.6 594.5V597.7M283.6 587.8V588.8M286.2 589.9V593.4M286.2 593.9V597.1M289.1 590.0V593.7M289.1 594.6V596.9M291.6 588.9V592.8M291.6 593.6V596.2M116.7 636.3V639.2M116.7 641.9V642.4M119.3 635.7V638.3M122.2 637.4V639.4M122.2 640.4V642.4M125.0 632.6V635.0M125.0 636.2V638.6M125.0 640.0V641.4M127.4 639.0V640.3M127.4 641.1V642.4M130.2 631.3V632.5M130.2 633.7V634.8M130.2 635.7V638.3M132.9 631.5V633.6M132.9 638.5V640.3M132.9 641.2V642.4M132.9 630.4V631.4M135.8 634.3V636.2M135.8 638.1V640.3M135.8 641.2V642.4M138.5 630.1V631.3M138.5 633.0V635.1M138.5 635.8V637.3M138.5 638.0V640.5M138.5 641.2V642.4M141.2 629.0V630.6M141.2 637.8V639.2M141.2 640.9V642.4M143.6 627.7V629.0M143.6 633.8V636.0M143.6 637.3V639.4M143.6 640.7V642.4M146.5 626.9V629.2M146.5 630.1V632.1M146.5 633.5V636.3M149.0 625.9V627.0M149.0 628.6V630.4M149.0 632.0V635.0M151.9 633.4V635.4M151.9 640.9V642.2M154.5 628.3V630.3M154.5 631.5V633.1M154.5 635.1V637.7M154.5 639.2V641.8M157.0 624.4V626.3M157.0 631.3V633.9M157.0 634.6V637.2M157.0 638.1V640.9M159.8 623.5V625.9M159.8 627.4V629.6M159.8 634.0V636.6M159.8 637.4V639.0M159.8 640.8V642.4M162.7 622.2V624.2M162.7 625.0V626.8M162.7 627.5V629.8M162.7 635.5V638.0M165.4 623.9V625.4M165.4 626.6V629.3M165.4 630.0V631.0M165.4 635.8V637.5M168.1 621.5V624.1M168.1 638.4V639.9M170.8 620.2V623.2M170.8 624.0V626.7M170.8 632.8V635.3M173.4 619.4V621.6M173.4 627.8V630.3M173.4 631.5V633.1M173.4 638.2V640.0M176.2 621.5V624.1M176.2 625.4V626.4M176.2 627.5V628.7M176.2 630.6V633.0M178.7 618.4V620.9M178.7 625.3V627.8M178.7 629.4V630.7M178.7 631.7V633.6M178.7 634.2V636.1M178.7 636.9V638.5M178.7 639.0V639.8M181.3 617.3V618.4M181.3 622.3V623.7M181.3 625.6V627.2M181.3 628.1V630.8M181.3 636.0V638.0M184.3 616.8V619.1M184.3 620.0V621.7M184.3 625.3V627.0M184.3 628.6V630.6M184.3 634.6V637.0M184.3 638.5V639.9M184.3 613.0V614.0M187.0 620.0V621.4M187.0 623.0V624.4M187.0 625.1V627.9M187.0 631.5V633.7M187.0 638.8V641.0M189.4 619.8V622.2M189.4 623.8V626.1M189.4 627.9V629.8M189.4 630.6V633.3M189.4 634.9V637.6M189.4 638.9V640.6M192.1 614.1V615.3M192.1 619.1V622.0M192.1 626.4V627.8M192.1 633.8V636.5M194.9 623.3V624.6M194.9 625.2V627.6M194.9 629.4V632.0M194.9 633.0V634.5M194.9 635.1V636.6M197.6 614.2V616.3M197.6 617.4V619.8M197.6 620.7V622.5M197.6 623.6V626.3M197.6 635.4V636.5M197.6 638.3V640.4M197.6 641.0V641.6M200.6 612.8V614.5M200.6 618.1V619.3M200.6 621.3V622.7M200.6 623.5V624.9M200.6 626.1V628.7M200.6 633.0V635.8M200.6 636.5V638.9M203.2 612.7V614.6M203.2 615.4V617.5M203.2 621.5V623.5M203.2 625.2V626.6M203.2 627.2V628.8M203.2 631.9V633.3M203.2 638.9V640.5M205.9 616.3V618.4M205.9 620.3V622.3M205.9 624.3V626.5M205.9 632.4V634.0M205.9 638.0V639.4M208.5 615.2V617.4M208.5 628.9V630.8M208.5 632.5V634.0M208.5 635.6V638.4M208.5 639.7V640.7M211.1 612.5V613.7M211.1 614.8V615.8M211.1 620.1V621.1M211.1 621.8V624.7M211.1 627.6V629.0M211.1 630.5V632.2M211.1 633.0V635.1M211.1 637.0V639.9M214.0 611.4V613.9M214.0 614.9V616.4M214.0 620.4V623.2M214.0 627.7V629.3M216.5 611.6V614.2M216.5 623.7V625.8M216.5 627.2V628.4M216.5 633.5V636.4M216.5 638.4V640.0M219.2 611.1V612.2M219.2 614.0V616.1M219.2 617.8V619.7M219.2 629.6V631.9M219.2 633.6V635.9M219.2 637.6V639.7M219.2 640.6V641.7M221.8 611.2V613.2M221.8 614.4V616.6M221.8 617.9V620.9M221.8 621.7V623.1M221.8 627.1V629.8M221.8 630.6V633.3M224.9 612.7V613.9M224.9 615.1V617.2M224.9 619.1V621.2M224.9 625.6V627.1M224.9 631.7V634.6M224.9 640.3V641.1M227.3 609.8V610.8M227.3 616.3V619.0M227.3 626.2V629.0M227.3 633.7V636.6M227.3 638.3V640.7M250.2 497.9V504.0M250.2 504.3V509.6M250.2 510.0V516.9M252.7 499.0V506.4M252.7 506.9V510.3M252.7 510.5V516.9M255.5 498.4V503.9M255.5 504.1V507.7M255.5 508.2V513.2M255.5 513.7V516.2M255.5 518.5V519.5M258.1 497.1V500.9M258.1 501.7V506.3M258.1 506.8V512.3M258.1 518.2V519.2M260.9 497.6V505.1M260.9 505.9V509.8M260.9 510.2V515.6M263.4 497.0V502.7M263.4 503.3V506.3M263.4 507.1V510.0M263.4 510.2V515.5M263.4 495.1V496.1M266.2 497.3V503.3M266.2 503.5V507.0M266.2 510.5V514.7M266.2 516.4V517.4M269.1 500.7V506.4M269.1 519.2V520.2M271.4 503.5V510.6M271.4 511.1V514.5M274.1 495.1V498.4M274.1 498.8V506.6M277.1 495.5V499.8M277.1 500.3V507.8M277.1 508.7V512.5M279.6 494.0V497.7M279.6 498.5V503.6M279.6 503.9V511.6M279.6 513.3V514.3M282.3 493.9V501.2M282.3 501.8V509.5M285.1 496.4V502.2M285.1 503.0V509.5M285.1 511.1V512.1M288.0 493.4V501.3M288.0 502.0V505.9M290.4 493.7V499.7M290.4 500.1V505.5M290.4 506.0V509.4M290.4 489.7V490.7M293.3 492.9V496.0M293.3 502.2V507.6M293.3 507.9V509.2M293.3 512.3V513.3M295.9 492.2V499.4M295.9 499.9V502.5M295.9 502.8V508.7M298.5 491.3V499.1M298.5 499.6V507.4M298.5 507.7V509.4M298.5 509.7V510.7M301.1 499.1V503.0M301.1 503.4V508.3M303.9 491.3V498.1M303.9 503.8V507.6M306.6 489.8V492.6M306.6 493.0V497.3M306.6 497.9V501.2M306.6 501.9V505.4M306.6 505.7V508.5M306.6 512.3V513.3M309.4 489.3V495.8M309.4 496.4V502.9M309.4 503.2V506.8M312.1 488.8V492.3M312.1 493.2V497.3M312.1 497.9V505.6M312.1 506.2V507.1M312.1 488.0V489.0M315.0 497.9V502.9M315.0 503.2V506.5M270.5 556.0V557.1M247.6 579.5V580.6M252.3 541.2V542.3M275.5 585.2V586.3M184.3 590.0V591.1M193.3 579.2V580.3M242.8 570.3V571.4M212.0 525.8V526.9M194.3 510.9V512.0M187.9 515.3V516.4M261.3 548.4V549.5M265.3 588.8V589.9M221.7 515.9V517.0M269.2 510.2V511.3M229.5 576.0V577.1M189.0 524.1V525.2M243.8 508.8V509.9M266.0 567.3V568.4M233.7 570.0V571.1M190.5 576.2V577.3M232.0 534.5V535.6M260.7 541.1V542.2M180.5 562.9V564.0M179.8 550.6V551.7M198.6 537.0V538.1M219.6 562.9V564.0M242.3 531.7V532.8M199.8 570.0V571.1M182.8 552.5V553.6M251.6 556.6V557.7M178.7 507.4V508.5M242.8 570.8V571.9M241.9 588.6V589.7M248.8 538.3V539.4M275.5 521.4V522.5M187.6 535.1V536.2M178.9 551.1V552.2M231.5 517.0V518.1M239.5 542.2V543.3M248.7 571.1V572.2M259.1 561.5V562.6M186.4 551.7V552.8M245.4 517.6V518.7M214.7 546.9V548.0M204.2 507.4V508.5M205.7 537.3V538.4M256.4 588.7V589.8M264.0 580.3V581.4M278.3 546.1V547.2M240.4 502.6V503.7M250.9 575.3V576.4M211.9 554.9V556.0M186.0 584.4V585.5M220.6 541.3V542.4M199.1 578.3V579.4M275.1 537.1V538.2M230.4 525.8V526.9M249.1 555.8V556.9M264.0 501.6V502.7M228.4 587.2V588.3M178.5 556.3V557.4M215.1 510.4V511.5M207.2 586.7V587.8M198.3 542.7V543.8M266.1 509.8V510.9M178.3 554.3V555.4M240.9 503.4V504.5M263.2 569.1V570.2M237.9 521.9V523.0M272.0 519.8V520.9M279.9 549.6V550.7M270.5 549.1V550.2M239.0 584.7V585.8M221.5 528.2V529.3M276.6 589.5V590.6M189.3 577.3V578.4M255.1 518.9V520.0M200.3 505.2V506.3M263.0 507.3V508.4M263.0 571.6V572.7M278.6 510.1V511.2M260.3 507.5V508.6M187.5 576.1V577.2M190.6 566.3V567.4M278.6 543.4V544.5M219.9 580.6V581.7M242.2 588.6V589.7M247.9 540.2V541.3M180.7 580.3V581.4M254.5 512.5V513.6M247.8 524.3V525.4M221.7 514.3V515.4M184.6 542.1V543.2M250.3 564.0V565.1M264.5 582.1V583.2M253.5 522.5V523.6M256.6 566.1V567.2M188.0 501.3V502.4M270.8 515.5V516.6M266.6 585.2V586.3M219.6 547.5V548.6M183.6 506.9V508.0M264.5 556.1V557.2M202.9 517.3V518.4M183.9 568.9V570.0M204.3 504.9V506.0M261.6 528.3V529.4M193.6 550.9V552.0M214.2 547.3V548.4M223.7 548.7V549.8M203.8 545.1V546.2M275.4 519.0V520.1M219.5 541.6V542.7M222.9 530.8V531.9M241.3 584.0V585.1M191.6 540.2V541.3M277.9 500.1V501.2M248.1 533.1V534.2M228.5 565.4V566.5M202.6 506.0V507.1M242.5 588.9V590.0M223.3 584.2V585.3M229.4 561.1V562.2M244.8 569.0V570.1M243.7 561.7V562.8M250.1 522.7V523.8M267.8 554.8V555.9M228.2 556.8V557.9M211.8 521.6V522.7M271.1 519.1V520.2M213.2 553.2V554.3M227.6 508.3V509.4M204.3 569.0V570.1M190.3 543.3V544.4M187.4 506.9V508.0M277.8 539.6V540.7M224.6 506.6V507.7M192.7 546.4V547.5M272.8 584.4V585.5M217.5 546.1V547.2M199.0 575.1V576.2M190.4 527.5V528.6M195.9 566.5V567.6M266.3 539.7V540.8M210.4 582.5V583.6M186.3 568.8V569.9M209.1 581.7V582.8M202.7 578.4V579.5M264.5 528.2V529.3M197.2 556.9V558.0M183.9 551.9V553.0M208.1 560.1V561.2M186.9 562.0V563.1M203.8 551.8V552.9M251.1 515.0V516.1M209.9 564.3V565.4M247.6 580.2V581.3M179.1 535.1V536.2M212.3 579.6V580.7M227.9 529.5V530.6M192.6 540.0V541.1M211.3 501.9V503.0M241.5 580.0V581.1M218.3 540.6V541.7M267.4 585.9V587.0M275.9 567.2V568.3M195.1 532.6V533.7M211.3 572.2V573.3M257.8 573.7V574.8M192.0 520.4V521.5M249.9 507.5V508.6M241.9 509.4V510.5M244.3 500.1V501.2M246.1 520.0V521.1M243.9 507.7V508.8M243.9 504.6V505.7M245.4 517.6V518.7M241.9 516.5V517.6M243.9 516.9V518.0M248.1 516.7V517.8M248.2 515.7V516.8M231.7 504.4V505.5M248.2 501.9V503.0M247.4 515.8V516.9M232.8 519.5V520.6M244.3 504.8V505.9M236.9 515.0V516.1M242.5 512.8V513.9M247.1 507.0V508.1M247.1 521.2V522.3M247.0 509.6V510.7M234.9 511.0V512.1M237.9 514.7V515.8M231.8 506.4V507.5M231.8 502.7V503.8" stroke="#4d79bc" stroke-width="1.4" fill="none"/>
<path d="M47.3 481.1h0M47.3 482.2h0M47.3 483.2h0M47.3 484.2h0M49.3 480.8h0M49.3 484.0h0M49.3 489.1h0M51.7 483.7h0M51.7 482.1h0M55.0 484.1h0M55.0 483.0h0M55.0 489.7h0M57.9 482.5h0M57.9 481.0h0M57.9 482.9h0M60.8 481.6h0M60.8 484.6h0M60.8 481.4h0M63.6 481.9h0M63.6 483.1h0M65.9 480.1h0M65.9 482.8h0M65.9 484.2h0M68.8 480.8h0M68.8 482.5h0M68.8 480.7h0M68.8 487.6h0M71.6 484.5h0M71.6 482.6h0M71.6 485.9h0M74.3 484.9h0M74.3 483.5h0M76.8 484.6h0M76.8 484.1h0M76.8 484.5h0M76.8 484.9h0M79.9 481.5h0M79.9 482.4h0M79.9 484.8h0M79.9 485.3h0M82.2 481.9h0M82.2 481.2h0M82.2 486.3h0M85.2 482.7h0M85.2 480.8h0M87.5 484.7h0M87.5 484.7h0M87.5 483.2h0M89.9 483.9h0M89.9 482.4h0M89.9 481.3h0M89.9 489.0h0M92.7 483.3h0M92.7 484.1h0M92.7 485.3h0M95.0 482.5h0M95.0 485.1h0M95.0 485.8h0M97.9 483.1h0M97.9 484.7h0M97.9 482.4h0M100.5 480.3h0M100.5 480.6h0M100.5 487.8h0M102.9 481.0h0M102.9 480.9h0M102.9 488.8h0M105.9 481.2h0M105.9 482.7h0M105.9 483.9h0M108.4 482.6h0M108.4 484.2h0M108.4 483.2h0M111.7 482.2h0M111.7 484.7h0M114.0 482.2h0M114.0 480.3h0M114.0 488.7h0M115.7 481.8h0M115.7 480.4h0M115.7 481.0h0M119.0 484.2h0M119.0 482.7h0M119.0 481.3h0M121.8 482.9h0M121.8 480.5h0M121.8 482.6h0M121.8 486.7h0M124.6 484.6h0M124.6 484.3h0M124.6 488.8h0M126.9 480.9h0M126.9 480.8h0M129.2 481.9h0M129.2 482.9h0M129.2 487.6h0M131.9 483.9h0M131.9 480.9h0M134.7 481.9h0M134.7 484.5h0M137.2 483.7h0M137.2 485.2h0M137.2 482.6h0M137.2 485.7h0M139.9 482.6h0M139.9 484.7h0M139.9 481.4h0M142.0 484.4h0M142.0 481.2h0M144.8 480.7h0M144.8 484.1h0M144.8 483.0h0M147.6 482.4h0M147.6 481.2h0M150.7 483.3h0M150.7 485.2h0M150.7 488.5h0M159.7 480.9h0M159.7 482.7h0M159.7 482.7h0M162.5 481.6h0M162.5 480.8h0M162.5 485.1h0M162.5 485.6h0M164.9 481.6h0M164.9 481.1h0M164.9 480.2h0M167.5 483.4h0M167.5 485.1h0M169.7 481.7h0M169.7 484.9h0M169.7 481.4h0M172.8 482.0h0M172.8 480.5h0M174.9 482.3h0M174.9 485.0h0M174.9 483.5h0M44.5 468.7h0M44.5 477.4h0M44.5 480.5h0M44.5 488.8h0M49.5 481.0h0M49.5 484.0h0M49.5 491.5h0M177.8 482.1h0M177.8 481.8h0M180.3 481.6h0M180.3 481.7h0M183.4 481.2h0M183.4 484.0h0M186.0 481.2h0M186.0 482.1h0M186.0 487.6h0M188.4 481.0h0M188.4 481.1h0M188.4 482.9h0M191.3 490.8h0M191.3 481.2h0M193.6 481.0h0M193.6 481.1h0M193.6 481.0h0M196.5 485.0h0M196.5 481.0h0M199.0 482.0h0M199.0 481.7h0M199.0 481.6h0M201.4 481.1h0M201.4 487.2h0M204.3 483.4h0M204.3 481.4h0M204.3 481.0h0M183.0 481.0h0M183.0 497.0h0M188.0 482.0h0M188.0 510.0h0M188.0 506.0h0M203.5 481.0h0M203.5 545.0h0M207.9 483.3h0M207.9 481.9h0M207.9 480.4h0M210.8 487.3h0M214.0 481.6h0M214.0 480.2h0M217.1 484.7h0M220.2 480.0h0M220.2 485.2h0M223.1 482.7h0M225.9 481.5h0M229.0 485.1h0M229.0 482.1h0M232.2 487.1h0M232.2 481.0h0M234.9 487.3h0M234.9 483.7h0M238.1 483.2h0M238.1 483.8h0M238.1 484.9h0M241.0 482.6h0M244.1 485.3h0M247.2 487.4h0M249.9 480.9h0M252.8 488.8h0M252.8 484.6h0M255.8 480.1h0M255.8 480.2h0M259.3 483.2h0M262.0 480.2h0M262.0 483.3h0M262.0 482.8h0M242.5 482.0h0M242.5 495.2h0M242.5 540.3h0M269.5 480.5h0M269.5 482.5h0M279.5 480.5h0M279.5 482.5h0M284.5 480.5h0M284.5 482.5h0M305.5 480.5h0M305.5 482.5h0M298.7 573.5h0M298.7 619.0h0M276.6 586.0h0M276.6 604.0h0M304.8 611.7h0M304.8 600.0h0M310.6 604.0h0M310.6 622.7h0M316.1 574.9h0M316.1 606.7h0" stroke="#f08430" stroke-width="2.25" stroke-linecap="round" fill="none"/>
<line x1="176.3" y1="465.1" x2="176.3" y2="643.0" stroke="#1a1a1a" stroke-width="1.6"/>
<line x1="206.1" y1="465.1" x2="206.1" y2="643.0" stroke="#1a1a1a" stroke-width="1.6"/>
<text x="3.3" y="467.7" font-size="18.5" fill="#111" stroke="#111" stroke-width="0.35" text-anchor="start" textLength="13.5" lengthAdjust="spacingAndGlyphs" >e)</text>
<text x="177.7" y="460.2" font-size="10" fill="#222" stroke="#222" stroke-width="0.3" text-anchor="middle" textLength="21.5" lengthAdjust="spacingAndGlyphs" >Silica</text>
<text transform="translate(7.0,553.5) rotate(-90)" font-size="9.0" fill="#3434a6" stroke="#3434a6" stroke-width="0.28" text-anchor="middle" textLength="40.5" lengthAdjust="spacingAndGlyphs" >Power (W)</text>
<text transform="translate(346.6,553.0) rotate(-90)" font-size="9.4" fill="#f38a3c" stroke="#f38a3c" stroke-width="0.28" text-anchor="middle" textLength="90" lengthAdjust="spacingAndGlyphs" >Alpha coefficient value</text>
<text x="178.0" y="666.5" font-size="10" fill="#222" stroke="#222" stroke-width="0.08" text-anchor="middle" textLength="91" lengthAdjust="spacingAndGlyphs" >Peak to peak Voltage (V)</text>
<text transform="translate(43.3,540.6) rotate(-90)" font-size="7.5" fill="#222" stroke="#222" stroke-width="0.08" text-anchor="middle" textLength="29.5" lengthAdjust="spacingAndGlyphs" >Plasma Off</text>
<text transform="translate(182.7,540.9) rotate(-90)" font-size="7.5" fill="#222" stroke="#222" stroke-width="0.08" text-anchor="middle" textLength="74" lengthAdjust="spacingAndGlyphs" >Plasma on – Polar discharge</text>
<text transform="translate(213.3,515.0) rotate(-90)" font-size="7.5" fill="#222" stroke="#222" stroke-width="0.08" text-anchor="middle" textLength="25.5" lengthAdjust="spacingAndGlyphs" >Streamers</text>
</svg></body></html>
